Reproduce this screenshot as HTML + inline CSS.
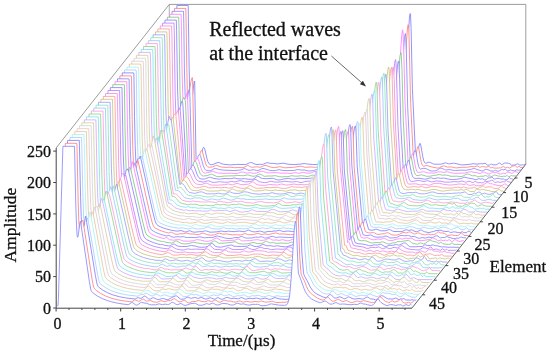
<!DOCTYPE html>
<html><head><meta charset="utf-8"><style>
html,body{margin:0;padding:0;background:#fff;}
svg{display:block;}
text{font-family:"Liberation Serif",serif;fill:#111;stroke:#111;stroke-width:0.3px;}
</style></head><body>
<svg width="550" height="353" viewBox="0 0 550 353">
<rect width="550" height="353" fill="#fff"/>
<path d="M169.3 4.4V164.3" stroke="#999" fill="none" stroke-width="0.8"/>
<g fill="#fff" stroke-width="0.75" stroke-linejoin="round">
<path d="M171.4 164.6L172.0 164.7 172.4 158.9 176.9 5.5 188.2 5.5 189.2 70.1 189.8 97.2 190.1 102.3 190.5 103.3 190.8 103.7 191.1 103.1 192.7 93.9 194.0 82.2 194.3 81.0 194.7 81.4 196.0 156.7 196.3 164.5 197.2 164.3 198.2 163.6 198.9 162.8 199.5 161.5 200.5 158.4 202.7 148.9 203.4 147.5 203.7 147.3 204.0 147.5 204.4 148.0 205.0 149.9 206.9 158.4 207.9 161.6 208.6 163.0 209.2 163.9 209.8 164.4 210.8 164.7 211.8 164.7 213.1 164.4 217.0 162.8 218.2 162.5 219.5 162.7 222.1 163.9 223.7 164.3 230.5 164.9 236.7 164.4 245.4 164.5 247.0 164.1 249.6 162.7 250.6 162.5 251.9 162.7 255.1 164.2 257.0 164.6 259.6 164.3 262.5 164.4 263.8 164.0 266.1 162.9 267.4 162.7 270.6 163.4 273.5 163.4 277.1 163.9 279.0 163.8 281.9 163.3 283.2 163.2 288.0 164.2 293.2 164.6 300.6 164.1 304.2 163.5 307.4 164.0 312.3 164.5 316.1 164.5 318.1 164.2 321.3 163.3 322.9 163.1 324.9 163.3 329.7 164.5 331.0 164.5 333.6 164.1 336.5 164.6 337.5 164.7 341.0 163.9 342.0 164.0 344.3 164.6 345.2 164.6 346.5 164.4 349.8 163.1 351.0 162.9 352.0 163.0 354.3 163.9 355.2 164.1 358.2 164.2 362.4 164.6 365.3 164.4 370.4 163.4 371.4 163.6 374.0 164.3 375.0 164.4 379.8 164.0 384.3 164.2 390.8 163.7 392.1 163.8 394.7 164.5 396.3 164.6 397.9 164.3 398.9 163.8 399.8 162.7 400.5 161.3 401.1 159.2 401.8 156.1 402.7 148.8 403.7 137.5 405.3 107.9 408.6 30.7 409.5 17.0 409.8 14.6 410.2 13.5 410.5 14.2 411.1 28.7 412.4 88.8 415.7 158.1 416.0 161.8 417.0 158.1 418.9 146.5 419.5 144.0 419.9 143.4 420.2 143.5 420.8 145.3 422.8 156.6 423.7 160.7 424.7 162.7 425.0 163.0 425.7 163.2 426.3 163.2 428.3 162.3 429.2 162.2 430.2 162.4 432.5 163.6 433.8 164.1 435.4 164.2 439.6 164.2 441.8 164.0 444.4 163.1 445.4 162.9 446.4 163.0 448.3 163.8 449.3 163.9 453.5 163.2 454.8 163.3 460.6 164.7 462.5 164.9 469.3 164.4 473.2 163.7 477.1 164.1 480.3 163.7 482.5 163.8 485.1 163.3 486.1 163.7 487.4 165.2 487.7 165.2 489.3 165.2 490.6 164.3 491.3 164.1 491.9 164.2 492.9 164.8 496.1 164.9 497.1 164.4 498.7 163.2 499.3 163.0 500.0 163.3 501.3 164.4 501.9 164.6 502.6 164.4 503.9 163.4 504.8 163.0 505.8 162.9 508.4 163.3 510.0 163.8 511.6 165.2 515.2 164.9 516.8 164.0 517.4 163.9 518.4 164.1 519.7 165.0 521.3 165.1 522.6 164.8 523.6 164.9 524.9 164.5 525.5 164.1" stroke="#7070ff"/>
<path d="M169.0 167.6L169.7 167.6 170.0 161.9 174.5 8.4 185.8 8.4 186.1 21.7 186.8 68.7 187.4 94.8 187.8 99.9 188.1 99.9 189.1 94.6 190.7 82.5 191.6 79.0 192.3 77.5 192.6 81.5 194.2 159.5 194.5 167.3 195.8 166.5 196.5 165.6 197.1 164.3 198.1 161.3 200.4 152.4 201.0 150.9 201.3 150.6 201.7 150.6 202.0 150.8 202.6 152.3 204.9 161.1 206.2 164.9 206.8 166.0 207.5 166.7 208.1 167.0 209.1 167.3 212.3 166.9 215.6 165.6 216.5 165.4 217.8 165.7 220.4 166.8 222.7 167.2 226.2 167.4 230.4 167.2 234.6 167.7 238.5 167.5 242.0 167.7 244.0 167.4 246.6 165.9 247.5 165.5 248.5 165.7 250.4 166.8 251.7 167.2 253.4 167.2 256.3 166.8 259.8 167.2 261.1 167.0 263.7 165.7 265.0 165.3 266.0 165.5 271.8 167.4 273.1 167.6 274.7 167.6 279.8 166.7 281.1 166.9 283.7 167.6 285.0 167.8 293.7 167.3 300.8 166.2 301.8 166.3 303.8 167.0 305.1 167.3 310.9 167.0 315.4 167.3 317.0 167.1 319.6 166.3 320.9 166.2 324.4 167.2 326.7 167.5 331.2 167.1 335.4 167.5 339.3 167.1 342.5 167.3 345.8 166.7 348.0 166.6 349.0 166.7 351.6 167.4 354.8 167.2 358.0 167.8 360.0 167.9 365.1 167.8 369.3 166.9 380.0 167.8 383.2 167.4 385.5 167.2 388.7 166.6 392.6 167.0 394.2 167.1 395.5 166.8 396.5 166.3 397.5 165.4 398.1 164.3 398.7 162.7 399.4 160.2 400.4 154.3 401.3 144.8 402.9 119.3 406.5 40.9 407.5 28.1 407.8 25.8 408.1 24.7 408.4 25.1 408.8 29.5 409.1 38.1 410.4 94.9 410.7 103.6 413.6 164.1 413.9 165.4 414.9 161.8 417.2 148.5 417.8 146.8 418.1 146.8 418.5 147.3 419.1 149.9 420.7 159.6 421.4 162.6 422.3 165.3 422.7 165.7 423.3 166.2 424.0 166.2 425.9 165.6 426.9 165.5 431.4 166.9 437.5 168.1 439.5 167.7 442.0 166.2 443.3 165.9 444.3 166.0 447.2 167.0 451.4 166.9 454.6 167.7 456.3 167.9 461.8 167.3 467.6 167.2 471.1 166.5 474.4 166.8 476.9 166.0 477.6 166.0 479.2 167.0 479.8 167.2 480.5 167.1 482.4 166.5 484.4 166.9 486.6 167.1 488.6 166.5 489.2 166.7 490.5 167.7 491.8 167.7 492.8 167.4 493.7 168.0 495.4 168.1 498.3 168.1 499.2 167.8 500.5 168.0 502.5 166.8 503.1 166.6 503.8 166.7 505.4 167.7 506.0 167.8 507.6 167.2 509.2 168.0 509.9 168.0 512.2 166.3 514.4 165.7 515.4 165.9 516.7 167.0 517.3 167.3 517.6 167.2 518.9 166.2 519.3 166.2 519.6 166.5 520.6 167.8 523.1 167.1" stroke="#ff7070"/>
<path d="M166.7 170.5L167.3 170.5 167.6 164.8 172.1 11.3 183.5 11.3 183.8 23.4 184.4 68.9 185.1 94.4 185.4 99.6 185.7 100.3 187.0 99.5 187.7 97.2 188.6 90.7 188.9 89.6 189.3 89.3 189.6 89.7 189.9 96.6 191.9 168.9 192.2 170.2 193.5 169.3 194.8 167.2 195.7 164.6 198.0 156.6 198.6 155.1 199.3 154.5 199.6 154.5 199.9 154.9 200.6 156.2 203.2 165.4 204.5 168.6 205.1 169.5 205.7 170.1 206.7 170.5 208.0 170.7 209.6 170.8 210.9 170.5 211.9 170.1 214.1 168.6 215.4 168.4 219.3 169.5 223.2 170.1 225.8 170.3 230.0 170.3 233.9 170.6 240.6 170.0 241.9 169.6 243.9 168.7 244.5 168.6 245.5 168.8 247.7 169.9 249.0 170.3 250.3 170.3 253.2 169.7 254.2 169.8 256.5 170.4 257.8 170.5 259.1 170.2 261.6 168.7 262.9 168.4 264.2 168.6 269.7 170.4 273.9 170.7 275.5 170.5 278.1 169.8 279.1 169.7 283.9 170.6 293.3 170.5 294.9 170.3 297.2 169.6 298.2 169.5 301.4 170.1 304.6 170.0 307.2 170.8 309.5 171.0 313.7 170.5 316.9 169.4 317.9 169.3 321.1 170.1 322.7 170.3 325.6 170.2 329.2 169.7 333.7 170.2 336.9 169.8 339.2 169.8 342.1 169.5 344.7 169.4 346.0 169.5 348.2 170.2 352.4 169.7 357.3 170.5 358.9 170.6 362.4 170.4 366.3 169.6 367.3 169.7 369.9 170.3 371.2 170.4 375.7 169.8 379.2 169.7 382.8 170.5 385.7 170.6 389.6 171.0 391.9 170.9 393.5 170.3 394.4 169.2 395.1 168.0 395.7 166.2 396.4 163.6 397.3 157.7 398.3 148.5 399.9 124.4 403.5 50.4 404.5 37.7 405.1 33.9 405.4 33.6 405.7 36.3 406.4 53.6 407.7 107.5 410.6 166.1 410.9 168.5 411.6 166.6 412.2 163.8 414.1 152.6 414.8 150.6 415.1 150.3 415.4 150.6 416.1 152.7 417.7 162.1 418.7 166.4 419.6 168.5 420.0 168.8 420.6 169.1 423.2 168.4 425.1 168.4 426.4 168.8 430.0 170.6 431.3 170.9 432.6 171.0 434.5 170.9 436.1 170.6 437.4 170.0 439.7 168.4 441.0 168.1 441.9 168.2 444.5 169.6 445.5 169.9 446.5 169.9 449.4 169.5 453.2 170.3 455.5 170.5 461.0 170.1 466.2 170.3 469.1 169.6 471.3 169.3 473.3 168.5 474.2 168.4 475.2 168.7 476.8 169.5 478.8 170.0 481.3 170.9 482.3 170.8 483.6 170.3 485.9 169.2 489.1 170.1 490.4 170.9 492.0 171.0 493.6 171.1 494.6 170.4 495.2 170.2 495.9 170.4 496.9 171.1 499.4 171.1 500.4 170.0 501.1 169.6 501.7 169.5 503.3 169.9 505.3 169.2 505.9 169.5 507.2 170.9 507.5 170.9 509.1 170.6 509.8 170.1 510.4 169.9 511.1 170.0 511.7 170.5 515.0 171.0 516.2 169.9 516.9 169.7 518.5 170.4 519.8 170.0 520.8 170.1" stroke="#7a7aff"/>
<path d="M164.3 173.5L164.9 173.5 165.2 167.7 169.8 14.3 181.1 14.3 181.4 25.2 182.0 68.8 182.7 93.6 183.0 99.0 183.3 100.2 183.7 100.5 184.6 98.5 185.0 98.5 185.3 98.7 185.6 98.6 185.9 97.8 186.9 93.4 187.2 92.5 187.5 95.7 190.1 169.4 190.4 172.1 191.7 171.1 192.7 169.5 193.7 167.0 195.9 159.9 196.6 158.6 197.2 158.2 197.9 158.7 198.5 159.9 201.1 168.4 202.1 170.8 202.7 171.8 203.4 172.5 204.0 172.9 204.7 173.0 205.6 173.0 209.2 172.3 212.7 171.3 213.7 171.5 216.6 172.7 218.2 173.1 226.3 173.4 230.8 173.2 235.0 173.7 237.9 173.3 240.8 172.2 242.1 172.0 243.4 172.2 246.7 173.1 250.2 172.7 253.5 173.3 254.7 173.3 256.7 172.9 260.2 171.5 261.5 171.3 263.5 171.5 266.4 172.6 268.0 172.9 276.7 172.6 281.2 173.2 287.1 173.2 290.9 173.5 291.9 173.4 294.8 172.6 298.7 173.3 300.0 173.1 302.2 172.5 303.2 172.4 307.1 173.2 309.0 173.2 311.3 172.8 314.2 171.6 315.2 171.4 316.5 171.6 320.0 173.1 321.9 173.3 323.6 173.2 326.5 172.3 327.4 172.2 330.7 172.9 332.0 172.9 335.5 171.9 336.8 171.7 337.8 171.8 340.4 172.5 342.9 172.4 345.5 173.0 348.4 173.0 352.3 173.5 357.2 173.1 361.4 173.2 365.6 172.5 371.4 173.0 375.9 172.9 379.1 173.4 382.0 173.2 385.3 173.4 389.2 172.6 390.8 172.0 391.7 171.0 392.4 169.8 393.0 168.0 393.7 165.4 394.6 159.3 395.6 149.7 397.2 124.7 400.8 48.3 401.8 34.9 402.4 30.4 402.7 29.8 403.0 31.5 403.7 47.8 405.0 101.8 408.5 170.4 409.5 167.0 411.4 156.4 412.1 154.2 412.4 153.8 412.7 153.9 413.4 155.6 415.3 166.2 416.0 169.0 416.9 171.5 417.6 172.2 418.2 172.5 423.4 171.7 424.4 171.9 427.6 173.0 431.2 172.9 433.7 173.1 435.0 172.9 437.6 172.1 438.9 171.8 440.5 171.8 443.8 172.4 447.3 171.8 448.6 172.0 451.8 173.0 454.7 173.3 464.4 173.1 468.3 172.1 471.5 171.7 474.1 172.4 476.1 172.3 479.0 173.4 479.9 173.6 480.6 173.4 482.5 172.2 483.2 172.1 484.1 172.1 484.8 172.3 486.7 173.4 488.0 173.9 490.3 174.0 490.6 173.9 491.9 172.3 492.5 172.0 494.2 172.5 496.4 172.6 499.0 173.6 500.3 174.0 501.3 174.0 503.2 173.1 503.9 173.2 504.8 173.8 505.8 173.5 507.1 172.1 507.7 171.9 510.0 172.6 511.3 173.4 511.9 173.7 512.6 173.3 513.9 171.8 514.2 171.6 514.8 171.5 517.1 172.0 518.4 173.1" stroke="#ff70ff"/>
<path d="M161.9 176.4L162.5 176.4 162.9 170.7 167.4 17.2 178.7 17.2 179.0 28.4 180.0 90.3 180.6 107.1 181.0 108.0 181.9 102.1 182.3 100.9 183.5 97.6 183.9 97.5 184.2 98.1 185.2 100.4 185.5 102.4 188.4 171.2 188.7 174.6 189.0 174.8 190.0 173.3 190.7 171.9 193.9 162.4 194.5 161.4 195.2 161.1 195.8 161.7 196.5 162.9 199.1 170.8 200.3 173.8 201.6 175.3 202.6 175.8 203.6 176.0 207.1 175.6 210.4 174.4 211.3 174.2 212.6 174.5 216.5 176.4 218.8 176.7 224.9 176.0 234.3 175.8 237.5 175.4 240.4 175.6 243.6 175.7 247.5 174.9 248.5 175.1 251.7 176.0 254.0 176.3 255.6 175.9 258.5 174.4 259.8 174.1 261.1 174.4 263.4 175.9 264.6 176.3 268.2 176.0 271.8 176.0 275.0 175.7 276.3 175.9 279.5 176.7 281.4 176.8 287.9 176.6 291.8 175.7 294.7 176.1 297.0 176.2 301.5 175.7 306.0 176.3 307.9 176.4 309.2 176.2 311.5 175.3 312.8 175.1 314.1 175.2 317.3 176.0 321.8 176.5 323.1 176.4 326.4 175.7 330.6 176.2 331.5 176.0 334.4 174.9 337.3 175.3 340.3 174.6 341.5 174.9 346.1 176.4 347.4 176.6 352.2 176.0 358.3 176.2 362.9 175.4 367.7 176.1 372.9 175.8 376.4 176.3 379.0 176.1 382.9 176.1 387.4 175.7 388.7 175.3 389.7 174.5 390.3 173.6 391.0 172.1 391.6 170.0 392.6 164.9 393.6 157.1 394.5 146.0 395.5 131.3 399.1 66.7 400.0 56.0 400.7 52.7 401.0 52.4 401.3 55.0 402.0 70.9 403.3 120.9 406.2 174.5 406.5 174.4 406.8 173.6 407.5 171.3 409.7 159.2 410.4 157.2 410.7 156.9 411.0 157.1 411.7 159.0 413.6 169.2 414.6 172.8 415.5 174.7 416.2 175.4 416.8 175.6 418.1 175.5 420.4 175.0 421.7 174.8 423.0 175.1 426.2 176.2 429.1 176.3 430.7 176.1 433.6 175.4 436.2 175.2 439.1 174.5 442.7 175.2 446.2 175.0 451.1 176.3 456.6 176.2 461.1 176.6 463.0 176.1 465.9 174.4 466.9 174.0 467.6 174.0 469.5 174.5 472.4 175.8 475.0 175.6 475.6 175.7 477.6 176.8 479.5 176.6 480.8 176.2 483.4 176.3 485.3 175.5 486.0 175.7 487.3 176.3 489.2 175.8 491.5 176.6 492.1 176.4 493.7 175.2 494.7 175.0 495.7 175.2 497.6 175.9 499.5 176.1 500.8 176.7 503.7 176.2 505.7 176.3 506.3 175.8 507.0 175.6 507.6 175.9 508.6 176.6 509.2 176.7 511.5 175.5 512.8 176.0 513.8 175.8 515.4 175.9 516.0 176.3" stroke="#70c070"/>
<path d="M159.5 179.5L160.2 179.6 160.5 173.6 165.0 20.1 176.3 20.1 176.6 30.5 177.6 91.0 178.3 107.9 178.6 109.6 178.9 110.1 179.2 110.0 179.9 108.4 181.5 101.9 181.8 101.2 182.1 101.1 182.5 101.5 182.8 103.2 186.3 170.2 186.7 175.0 187.0 176.8 187.3 176.8 187.6 176.4 188.6 174.5 191.5 166.7 192.2 165.6 192.8 165.1 193.5 165.4 194.4 166.9 197.0 174.1 198.3 176.8 198.9 177.7 199.9 178.5 200.9 178.9 201.9 179.0 204.1 179.0 205.4 178.8 208.6 177.5 209.6 177.3 210.6 177.4 213.8 178.4 218.7 179.1 220.3 179.0 225.1 178.5 230.6 178.7 234.2 178.0 235.1 178.1 237.1 178.7 238.0 178.8 241.6 178.9 244.5 178.6 248.1 179.2 251.9 179.3 252.9 179.2 253.9 178.8 256.8 176.6 257.7 176.3 258.7 176.5 261.0 178.0 262.6 178.5 266.1 178.7 272.3 178.3 273.6 178.5 276.5 179.7 278.4 179.9 280.4 179.9 282.9 179.1 288.1 178.3 291.7 179.0 293.6 179.1 295.2 179.0 298.5 178.3 304.9 178.6 309.8 178.3 312.0 178.4 316.2 179.1 318.8 179.2 320.4 179.1 323.7 178.4 326.6 178.9 327.9 178.9 330.4 177.9 331.4 177.6 334.3 178.3 337.6 177.7 340.1 177.9 341.4 178.2 344.3 179.4 346.3 179.7 359.8 178.6 361.1 178.7 364.4 179.3 366.0 179.4 369.9 178.7 372.8 178.7 376.0 178.4 380.2 179.4 382.1 179.7 384.1 179.5 385.7 178.9 386.7 178.2 387.6 177.0 388.3 175.7 388.9 173.9 390.2 167.7 391.2 160.1 392.2 149.3 393.1 135.3 396.7 74.5 397.6 64.5 398.3 61.4 398.6 61.1 398.9 63.5 399.6 78.7 400.9 126.8 403.5 174.4 403.8 177.1 404.1 176.9 404.4 176.2 405.1 174.1 407.3 162.6 408.0 160.6 408.3 160.3 408.6 160.4 409.3 162.0 411.2 171.7 412.2 175.3 412.8 176.8 413.5 177.7 413.8 178.0 414.8 178.3 416.1 178.4 419.9 178.3 423.2 179.0 424.5 179.2 426.7 178.9 430.6 177.8 431.6 177.9 433.2 178.5 434.2 178.6 437.4 177.9 438.4 177.9 440.6 178.3 443.5 178.1 444.5 178.2 449.7 179.4 452.6 179.6 456.5 179.3 460.3 178.7 461.6 178.3 463.6 177.4 464.9 177.2 468.7 178.2 472.9 178.8 475.2 179.7 476.8 179.5 478.4 178.7 479.1 178.7 480.7 179.2 482.3 178.7 482.9 178.8 484.2 179.9 485.9 179.9 486.2 179.8 487.5 178.4 488.1 177.9 490.1 177.9 491.7 177.1 492.3 177.3 493.6 178.6 494.6 179.1 495.2 179.0 496.8 178.4 497.8 178.3 499.4 178.5 500.4 179.0 502.0 179.1 503.3 178.8 504.3 179.6 504.6 179.7 506.9 179.8 507.8 179.4 508.8 177.9 509.4 177.5 509.8 177.7 510.4 178.6 511.7 178.8 513.6 179.5" stroke="#8070ff"/>
<path d="M157.2 182.4L157.8 182.4 158.1 176.5 162.6 23.1 174.0 23.1 174.3 33.3 175.2 96.0 175.9 113.9 176.2 115.8 176.9 116.9 177.2 117.0 177.5 116.5 177.8 115.2 178.5 111.6 179.1 109.1 179.8 108.2 180.1 108.1 180.4 111.2 184.6 171.4 185.3 178.1 185.6 178.8 189.1 170.4 190.1 169.0 190.8 168.8 191.4 169.1 192.4 170.5 195.3 177.6 195.9 178.8 196.9 180.1 197.9 180.9 198.8 181.3 203.0 182.0 204.3 181.9 206.9 181.0 207.9 180.8 208.8 180.9 211.8 182.1 213.0 182.4 214.7 182.4 219.5 181.7 224.4 182.2 227.3 182.2 228.6 182.1 231.5 181.4 234.0 181.9 235.3 181.9 238.6 180.9 240.2 180.7 241.5 180.8 244.4 181.8 246.0 181.9 250.8 181.5 252.1 181.0 254.1 179.7 255.0 179.4 256.0 179.6 258.3 181.1 259.2 181.6 262.8 182.4 264.7 182.6 266.7 182.4 269.9 181.5 271.2 181.3 274.4 182.0 276.4 182.1 280.9 181.9 284.8 181.2 288.3 181.7 291.9 181.9 293.2 181.9 296.4 181.5 297.4 181.7 300.0 182.4 300.9 182.6 302.2 182.4 304.8 181.6 309.3 181.1 310.6 181.1 314.5 181.9 317.1 182.0 321.3 181.3 323.9 181.7 324.8 181.8 327.4 180.8 328.4 180.6 331.6 181.2 334.2 181.0 335.5 181.1 341.0 182.1 345.2 182.1 350.7 182.6 354.6 182.4 357.8 181.3 358.8 181.1 363.0 181.7 366.8 181.4 372.0 181.4 375.9 181.9 378.8 182.1 381.4 182.0 383.0 181.4 384.0 180.6 384.6 179.6 385.3 178.1 385.9 176.0 387.2 169.3 388.2 161.3 389.1 150.1 390.1 135.7 393.7 73.6 394.6 63.3 395.3 60.1 395.6 59.6 395.9 61.7 396.6 76.9 397.9 124.5 400.8 176.5 401.1 180.2 401.7 178.6 402.4 176.3 404.3 166.6 405.0 164.7 405.3 164.3 405.6 164.5 406.3 166.1 408.2 175.4 409.2 178.9 410.1 180.8 410.5 181.1 411.4 181.4 413.4 181.4 416.9 180.6 418.5 180.5 420.2 180.7 422.7 181.4 424.0 181.5 425.0 181.4 426.9 180.7 427.9 180.7 431.5 181.9 432.8 181.8 435.3 181.1 436.6 181.0 441.5 181.3 444.7 182.1 446.3 182.2 450.5 182.0 454.4 181.6 458.6 181.9 461.8 181.0 462.8 181.2 464.7 181.9 465.7 182.1 466.4 182.1 468.0 181.4 468.9 181.2 470.2 181.4 471.8 182.3 472.8 182.5 473.5 182.3 474.8 181.5 475.4 181.4 476.0 181.6 477.0 182.5 477.3 182.6 479.0 182.8 480.2 182.4 481.2 182.8 483.2 182.8 483.5 182.7 484.5 181.6 485.1 181.2 487.0 181.7 488.3 181.2 489.9 181.1 491.2 180.4 491.9 180.2 492.9 180.6 494.5 182.1 495.1 182.5 497.4 181.9 498.3 181.9 500.3 182.4 500.9 182.3 502.9 181.6 504.5 181.8 506.1 180.6 506.4 180.6 506.7 180.7 507.7 181.6 508.7 181.8 510.0 182.2 511.3 182.1" stroke="#b070ff"/>
<path d="M154.8 185.1L155.4 185.2 155.7 179.5 160.3 26.0 171.6 26.0 171.9 35.4 172.9 96.7 173.5 114.7 173.8 116.7 174.2 116.8 175.8 114.4 176.4 114.0 176.7 113.5 178.0 109.7 178.4 110.5 183.2 171.6 183.9 178.7 184.2 179.8 186.8 174.3 187.7 173.0 188.4 172.7 189.0 172.9 190.0 174.1 193.2 180.7 194.8 182.9 195.8 183.6 196.8 184.1 200.0 184.6 201.9 184.5 204.9 183.3 206.1 183.1 207.4 183.4 210.3 184.8 212.0 185.1 218.4 185.1 224.6 184.7 227.8 184.0 228.8 184.1 231.0 184.7 232.3 184.8 233.6 184.6 235.9 183.6 237.2 183.4 238.1 183.5 240.7 184.6 243.0 184.7 248.5 184.1 249.8 183.5 251.7 182.1 252.7 181.8 253.6 182.2 255.9 184.0 257.5 184.8 259.5 185.1 264.6 185.4 266.2 185.2 269.5 184.4 273.4 184.8 277.2 185.0 278.5 184.8 280.8 184.1 281.8 184.0 284.7 184.8 286.6 185.0 289.2 184.8 294.0 184.0 297.6 184.7 301.1 184.5 304.0 184.8 307.3 184.6 310.8 185.3 312.4 185.4 315.7 185.1 319.2 184.3 323.4 183.6 324.4 183.6 326.7 184.0 327.6 184.0 331.8 183.2 334.1 183.5 337.6 184.7 340.2 184.9 346.7 184.8 352.8 185.1 356.4 184.9 359.3 185.0 363.2 184.6 366.4 184.9 370.6 184.3 377.4 184.9 379.0 184.7 380.3 184.3 381.3 183.5 382.2 182.2 382.9 180.8 383.5 178.9 384.8 172.6 385.8 164.9 386.8 154.3 387.7 140.6 391.3 81.4 392.3 71.2 392.9 67.6 393.2 66.9 393.5 67.6 394.2 79.5 395.5 127.1 398.7 182.4 399.0 182.6 400.0 179.5 402.3 168.4 402.9 166.9 403.2 166.8 403.6 167.2 404.2 169.3 405.8 177.5 406.8 181.3 407.8 183.4 408.1 183.8 408.7 184.0 410.0 184.1 415.2 183.8 416.8 184.0 419.7 184.8 421.0 184.9 422.0 184.8 423.9 184.3 424.9 184.2 427.8 185.1 428.8 185.2 430.4 185.0 433.6 183.6 435.2 183.3 439.7 183.4 443.0 184.2 449.8 185.1 454.9 184.7 458.5 184.0 461.7 184.1 464.0 184.5 466.2 183.8 466.9 184.0 468.5 185.1 469.2 185.4 471.4 185.2 474.0 184.6 474.6 184.8 475.9 185.7 479.2 185.7 481.8 185.3 483.0 184.9 486.6 182.8 487.6 182.5 488.2 182.7 489.8 183.7 490.5 183.8 492.1 183.7 492.7 184.0 493.7 184.8 495.0 184.7 498.2 185.6 499.5 185.3 500.5 185.6 501.8 185.4 503.7 184.7 504.4 183.9 504.7 183.8 505.0 183.8 507.3 185.3 508.9 185.7" stroke="#f080e0"/>
<path d="M152.4 187.2L153.0 187.2 153.4 182.4 157.9 28.9 169.2 28.9 169.5 37.9 170.5 99.9 171.1 118.4 171.5 120.8 171.8 121.5 172.1 121.4 172.4 120.6 173.7 115.3 174.0 114.8 175.7 113.3 181.5 175.9 182.1 181.5 182.4 181.6 183.7 179.1 184.7 177.6 185.7 176.8 186.6 176.8 187.3 177.2 188.3 178.4 191.2 183.5 192.8 185.9 193.8 186.8 194.7 187.4 195.7 187.8 196.7 187.9 199.6 187.6 203.1 186.4 204.4 186.3 205.7 186.5 208.3 187.7 209.6 187.9 215.4 187.5 221.2 187.8 224.8 187.3 228.3 188.0 229.9 188.1 231.6 187.8 233.8 186.7 234.8 186.4 235.8 186.6 237.7 187.4 239.0 187.8 241.9 188.3 243.8 188.4 245.1 188.2 246.1 187.9 247.1 187.4 249.0 185.9 249.7 185.5 250.3 185.5 251.3 185.8 253.5 187.2 254.8 187.8 256.4 188.2 258.4 188.3 263.2 188.0 267.1 187.4 270.7 187.7 277.1 187.3 278.4 187.5 281.3 188.3 283.6 188.5 288.1 187.9 291.3 186.8 292.3 186.7 295.2 187.2 298.4 187.1 301.3 187.6 305.5 186.7 309.4 187.4 313.3 187.8 314.9 187.8 317.5 187.3 319.8 187.1 323.6 187.7 324.9 187.5 327.5 186.5 328.8 186.3 330.8 186.6 335.0 187.9 337.5 188.2 342.4 187.8 350.8 188.0 354.7 187.5 357.6 187.7 360.5 187.5 364.0 188.1 367.3 187.6 371.1 188.0 374.0 187.8 377.3 187.9 378.6 187.5 379.5 186.8 380.2 185.8 380.8 184.4 381.5 182.4 382.8 175.8 383.7 168.1 384.7 157.6 385.7 144.1 388.6 94.3 389.6 80.2 390.5 70.7 391.2 67.8 391.5 67.4 391.8 69.5 392.1 75.4 393.4 122.5 393.8 129.2 397.0 182.8 397.3 185.7 398.3 182.4 400.2 172.6 400.9 170.7 401.2 170.4 401.5 170.6 402.2 172.2 404.1 181.4 405.1 184.7 406.0 186.5 406.7 186.8 408.0 187.2 409.6 187.2 413.8 186.6 418.6 187.1 421.5 186.5 422.5 186.7 424.8 187.6 426.4 187.8 428.0 187.5 431.6 186.4 433.2 186.3 438.3 186.8 441.6 187.7 443.2 188.0 450.9 188.1 452.2 188.0 454.8 187.4 457.7 187.2 459.0 187.3 461.3 188.0 461.9 187.8 463.2 187.0 463.9 186.9 464.5 187.0 467.1 188.0 469.7 188.2 472.6 187.9 474.5 187.2 475.2 187.5 476.1 188.7 477.8 188.7 478.1 188.6 479.4 187.4 481.0 187.1 482.3 186.2 482.9 186.0 483.6 186.2 484.9 187.2 485.5 187.4 488.1 186.9 491.3 186.9 492.6 187.3 493.6 188.2 495.9 188.6 496.8 188.3 498.1 188.4 498.8 188.3 499.4 187.7 500.7 186.1 501.3 185.8 502.0 186.3 503.3 187.7 504.6 187.8 505.9 188.6 506.5 188.6" stroke="#ff9090"/>
<path d="M150.0 191.1L150.7 191.2 151.0 185.3 155.5 31.9 166.8 31.9 167.1 40.3 168.1 102.7 168.4 114.5 168.8 121.7 169.1 124.5 169.7 124.3 170.4 123.3 171.7 118.7 172.0 118.2 172.6 117.7 173.0 117.1 180.4 183.2 180.7 183.7 182.0 181.7 183.3 180.5 184.3 180.3 184.9 180.6 186.2 182.0 189.8 188.1 190.7 189.2 192.0 190.1 195.6 190.7 196.9 190.7 198.2 190.5 201.1 189.5 202.7 189.3 204.3 189.6 207.5 190.8 209.5 191.1 218.2 190.9 221.8 190.1 222.7 190.2 225.6 190.9 227.6 191.1 229.2 190.7 231.4 189.2 232.4 189.0 233.4 189.2 235.3 190.2 236.6 190.7 238.9 191.0 241.1 191.1 242.4 191.0 243.4 190.6 246.3 188.6 247.6 188.2 248.9 188.5 253.1 190.6 254.4 190.9 255.7 191.0 261.5 190.7 265.4 189.8 269.9 190.6 271.8 190.6 275.1 190.0 278.3 190.5 281.8 190.5 285.7 191.2 287.0 191.0 289.9 190.1 292.2 190.1 294.8 189.8 295.7 189.9 298.0 190.6 299.3 190.8 303.2 190.4 306.7 190.6 311.9 190.5 313.5 190.2 315.8 189.1 316.7 188.9 317.7 189.2 320.0 190.3 321.3 190.4 322.6 190.1 325.1 188.8 326.1 188.6 327.4 188.9 329.7 190.4 330.6 190.8 332.9 191.1 339.0 191.0 343.6 190.4 348.4 191.0 352.6 190.1 356.5 190.3 360.0 190.9 364.2 190.2 367.8 190.8 369.7 190.9 373.9 190.4 374.9 190.1 375.9 189.7 376.8 188.7 377.5 187.7 378.1 186.2 378.8 184.1 380.1 177.2 381.0 169.0 382.0 157.9 383.0 143.9 386.5 83.5 387.2 75.6 387.8 70.0 388.5 67.2 388.8 67.0 389.1 69.6 389.4 76.1 390.7 123.3 394.6 185.3 394.9 187.3 395.6 184.8 397.5 175.6 398.2 174.0 398.5 173.8 398.8 174.1 399.5 175.8 401.4 184.3 402.4 187.1 403.3 188.6 405.3 189.5 406.6 189.8 408.2 189.8 411.4 189.3 412.7 189.3 415.6 189.8 418.8 189.4 422.4 190.6 426.3 190.9 428.2 190.7 431.8 189.6 434.0 189.4 436.0 189.6 439.8 190.8 442.8 191.1 448.9 190.4 452.1 189.9 454.7 190.2 457.0 190.1 458.6 190.3 461.2 189.6 463.4 190.2 464.1 190.1 465.4 189.4 466.0 189.3 468.3 190.3 470.2 191.5 474.4 191.6 474.7 191.4 476.0 189.3 476.7 189.1 478.3 189.7 480.6 190.0 482.5 189.4 483.1 189.4 486.0 190.2 488.6 190.5 491.2 191.4 493.2 191.6 495.1 191.4 497.4 190.6 498.3 189.4 499.0 189.2 500.9 191.0 502.5 191.0 503.8 191.6 504.1 191.6" stroke="#c0c070"/>
<path d="M147.7 193.8L148.3 193.9 148.6 188.3 153.1 34.8 164.5 34.8 164.8 42.5 165.7 103.7 166.1 115.4 166.4 122.8 166.7 125.8 167.0 126.0 167.4 125.3 169.0 116.6 169.3 116.3 170.3 119.6 170.6 119.8 170.9 118.9 171.2 119.8 179.6 184.0 180.0 184.7 180.9 183.9 181.6 183.6 182.2 183.6 183.2 184.2 184.2 185.4 187.4 190.5 188.4 191.6 189.3 192.4 194.5 193.4 196.1 193.1 199.7 192.0 201.6 191.8 202.9 192.2 205.8 193.6 207.1 193.9 210.7 193.8 214.2 193.9 218.4 193.2 221.6 193.8 223.6 194.0 224.9 193.9 225.8 193.6 228.4 192.2 229.4 191.9 230.4 192.0 232.3 192.8 233.6 193.2 237.5 193.5 240.1 193.2 243.3 191.9 244.6 191.8 247.5 192.1 251.0 193.2 252.7 193.6 259.1 194.2 261.1 194.1 264.0 193.6 268.2 193.8 271.1 192.9 272.0 192.7 276.6 193.8 279.5 194.0 281.7 194.0 284.3 193.7 287.9 192.7 290.1 192.6 291.8 192.8 294.3 193.8 295.3 194.0 296.9 193.9 299.8 193.2 301.1 193.1 302.4 193.3 305.6 194.2 307.6 194.5 309.2 194.4 310.2 194.2 311.1 193.7 313.1 192.3 314.0 192.0 315.0 192.3 317.3 193.6 317.9 193.7 318.9 193.6 320.2 193.0 322.1 191.5 323.1 191.1 324.1 191.4 326.6 193.5 327.3 193.7 328.3 193.8 331.2 193.7 335.0 193.9 338.9 193.6 347.6 194.0 349.3 193.8 352.5 193.1 353.8 193.0 357.0 193.5 360.6 193.3 363.5 193.9 364.8 193.9 371.2 193.4 372.9 192.9 373.8 192.0 374.5 191.0 375.1 189.6 375.8 187.5 377.1 181.0 378.0 173.4 379.0 163.1 380.0 150.0 382.9 101.7 383.8 87.8 384.8 78.2 385.5 74.9 385.8 74.2 386.1 74.7 386.4 78.8 386.7 86.6 388.0 130.8 391.9 189.8 392.2 189.9 394.5 180.0 395.1 178.2 395.5 177.9 395.8 178.0 396.4 179.3 398.4 187.9 399.0 190.2 399.7 191.8 400.3 192.7 402.9 193.5 404.5 193.5 408.1 192.5 412.3 192.7 415.5 192.3 416.5 192.5 418.7 193.4 420.0 193.8 424.5 193.8 427.1 193.4 430.7 192.2 432.6 192.0 434.2 192.2 436.8 193.2 438.1 193.5 444.6 193.8 448.1 193.3 451.4 193.5 454.9 193.1 456.9 193.1 458.5 192.8 460.7 193.0 464.9 191.9 465.9 192.3 467.8 194.2 468.5 194.5 472.0 194.5 473.7 193.3 474.3 193.2 475.6 193.4 476.2 193.3 477.9 192.3 478.5 192.1 479.8 192.3 480.4 192.5 482.1 193.9 482.4 193.9 484.6 193.1 487.2 194.1 488.8 194.4 490.8 194.1 492.4 193.4 494.0 193.0 495.6 191.9 496.3 191.7 496.9 192.3 497.9 194.0 498.2 194.2 499.5 194.5 501.8 194.5" stroke="#9090ff"/>
<path d="M145.3 196.6L145.9 196.5 146.2 191.2 150.8 37.7 162.1 37.7 162.4 45.3 163.4 108.4 163.7 120.6 164.0 128.4 164.3 131.8 165.0 132.4 165.3 132.4 165.6 132.1 166.3 130.4 167.6 125.3 167.9 124.9 168.5 124.5 168.9 125.7 176.3 180.3 177.6 188.5 177.9 188.5 178.9 187.7 179.5 187.4 180.2 187.3 181.1 187.6 182.8 189.2 186.0 193.4 187.0 194.4 188.2 195.3 193.7 196.4 196.3 195.4 198.3 195.3 200.2 195.6 204.4 196.6 207.0 196.9 209.2 196.9 211.5 196.7 214.1 195.9 215.1 195.8 218.6 196.4 221.8 196.4 223.1 196.0 225.7 194.5 226.7 194.3 228.0 194.7 231.2 196.5 233.5 196.9 237.0 196.9 238.0 196.6 240.6 195.4 245.4 194.9 247.1 195.2 250.9 196.6 252.9 197.0 258.0 196.7 261.6 196.2 265.1 196.3 268.4 195.7 271.9 196.7 274.2 196.9 275.8 196.7 279.0 196.1 282.3 195.9 283.6 195.5 285.8 194.6 286.8 194.4 288.1 194.7 290.7 196.3 292.0 196.6 293.6 196.5 297.5 195.4 299.1 195.2 300.4 195.3 304.2 196.3 306.2 196.5 307.5 196.2 309.7 195.0 310.7 194.8 311.7 195.2 313.9 196.6 315.2 196.8 316.5 196.5 319.4 194.2 320.4 194.0 321.0 194.2 323.0 195.7 323.9 196.2 329.4 197.3 334.6 196.8 339.8 196.6 344.0 196.8 345.3 196.6 347.9 195.8 348.8 195.7 350.1 195.9 352.4 196.6 353.4 196.7 357.2 196.1 360.5 196.4 364.0 196.3 368.2 196.5 369.8 196.3 371.1 195.8 371.8 195.2 372.4 194.3 373.1 192.8 373.7 190.7 375.0 184.0 376.0 176.2 376.9 165.7 377.9 152.4 381.8 89.1 382.4 81.5 383.1 76.2 383.7 73.4 384.0 73.1 384.4 75.6 384.7 82.1 386.0 127.3 390.2 190.1 390.5 192.5 392.8 183.3 393.4 181.9 393.7 181.7 394.1 182.0 394.7 183.6 396.6 191.7 397.6 194.3 398.3 195.3 401.2 196.2 402.8 196.2 406.3 195.4 409.6 195.4 412.5 194.6 413.8 194.9 415.7 196.0 417.0 196.5 420.2 197.0 423.1 197.1 425.1 196.9 426.4 196.5 429.3 195.3 430.9 195.0 432.2 195.3 434.8 196.3 436.4 196.7 440.6 196.8 444.8 196.2 448.7 196.9 450.9 197.1 452.9 196.9 455.5 195.9 457.4 195.8 459.0 195.3 460.0 195.2 461.6 195.5 463.5 197.0 464.2 197.2 470.3 197.5 471.3 196.9 472.9 195.7 475.5 195.0 476.8 195.0 478.4 195.9 479.0 195.9 480.3 194.5 481.0 194.2 481.9 194.7 483.9 197.0 485.2 197.3 485.5 197.3 486.1 196.8 486.8 196.6 488.4 197.0 489.1 196.9 490.7 196.0 492.3 194.7 492.9 194.3 493.6 194.7 494.9 197.0 495.2 197.2 496.8 197.4 499.4 197.5" stroke="#80e0b0"/>
<path d="M142.9 199.8L143.5 199.8 143.9 194.1 148.4 40.7 159.7 40.7 160.0 47.2 161.0 108.1 161.3 120.1 161.6 127.8 162.0 131.4 162.6 133.3 163.3 134.4 163.6 134.6 163.9 134.2 164.2 132.9 165.2 126.3 165.5 124.8 165.8 124.1 174.2 182.5 175.5 190.7 175.9 191.0 176.8 190.5 177.8 190.5 179.1 191.1 180.4 192.5 183.3 196.3 184.6 197.7 190.7 199.0 194.3 197.9 199.1 197.9 200.4 198.2 204.6 199.9 206.6 200.2 208.2 200.0 210.8 199.1 211.7 198.9 212.7 199.0 216.6 199.8 218.8 199.8 220.1 199.4 222.4 198.3 223.4 198.1 226.9 199.0 229.8 200.0 231.1 200.1 233.0 199.8 236.6 198.3 237.6 198.1 240.5 198.9 243.4 198.8 247.3 199.6 251.8 199.3 256.3 199.8 259.2 199.3 262.4 199.3 265.4 198.8 268.9 199.5 273.4 199.2 278.6 199.7 280.5 199.5 283.1 198.2 284.1 197.9 285.1 198.0 287.0 198.9 288.3 199.1 299.9 199.3 303.2 198.9 306.1 197.7 307.0 197.5 308.3 197.9 310.9 199.1 312.2 199.4 313.2 199.2 313.8 198.9 316.1 196.9 317.1 196.4 318.0 196.7 320.3 198.6 321.6 199.3 323.2 199.6 326.7 199.9 329.0 199.9 332.6 199.3 334.2 199.2 335.8 199.3 339.7 200.1 341.3 200.2 342.9 200.0 346.1 198.9 347.1 198.9 350.3 199.5 354.5 198.7 357.8 199.5 361.0 199.7 364.5 200.1 366.5 199.8 368.1 199.1 369.1 198.3 370.0 196.9 371.3 193.5 372.6 187.2 373.6 180.0 374.6 170.1 375.5 157.6 379.7 91.4 380.7 81.6 381.3 78.0 381.7 77.1 382.0 77.2 382.3 80.7 382.6 88.1 383.6 124.8 383.9 131.2 388.1 193.2 388.5 195.4 390.7 186.3 391.4 185.0 391.7 184.9 392.0 185.2 392.7 186.9 394.3 193.5 394.9 195.6 395.6 197.0 396.2 197.7 397.2 197.8 399.8 198.6 401.4 198.7 405.9 198.1 408.5 197.4 409.5 197.3 410.4 197.6 412.7 199.2 414.0 199.7 421.1 200.4 423.0 200.2 424.3 200.0 425.3 199.6 427.6 198.3 428.8 197.9 430.5 198.1 434.0 199.4 437.6 199.9 438.9 199.8 442.1 199.2 450.5 199.6 451.5 199.3 453.1 198.3 454.0 198.1 456.0 198.5 457.6 198.2 458.2 198.3 460.2 199.5 461.8 200.3 467.6 200.4 469.6 199.1 470.2 199.0 471.5 199.5 472.1 199.5 476.0 197.6 478.0 197.1 478.9 197.7 480.5 199.5 481.2 200.0 481.8 200.2 483.4 200.4 485.1 200.3 488.9 199.3 489.9 199.4 492.8 200.3 497.0 200.4" stroke="#90c0ff"/>
<path d="M140.5 202.6L141.2 202.7 141.5 197.1 146.0 43.6 157.3 43.6 157.6 50.1 158.6 113.3 158.9 125.9 159.3 134.1 159.6 138.1 159.9 138.4 160.2 138.3 160.6 138.0 160.9 137.0 161.8 131.9 162.2 131.0 162.5 130.5 163.1 130.3 163.8 130.9 172.2 186.9 173.5 194.0 173.8 194.2 174.8 193.9 175.4 193.9 176.7 194.4 178.0 195.6 181.2 199.3 181.9 200.0 182.2 200.2 186.1 201.2 190.0 201.9 191.9 201.2 192.9 201.0 195.8 201.5 201.6 202.0 205.5 202.1 209.0 201.7 215.8 202.5 216.8 202.3 219.0 201.4 220.0 201.2 222.6 201.8 224.9 202.1 227.1 202.7 228.4 202.8 230.7 202.4 233.9 201.2 234.9 201.1 237.8 201.9 240.7 201.4 241.7 201.4 245.9 202.7 249.1 202.7 253.0 203.1 254.6 202.9 257.8 201.8 260.7 201.6 262.0 201.7 265.6 202.6 273.6 202.8 277.8 202.3 278.8 201.9 280.4 200.9 281.4 200.6 282.4 200.8 285.0 202.5 286.6 202.8 291.1 202.5 295.0 201.8 296.3 201.9 298.8 202.5 299.8 202.5 300.8 202.2 302.4 201.4 303.4 201.2 306.3 201.9 309.8 202.1 310.8 201.9 313.1 200.4 314.0 200.2 314.7 200.3 316.9 201.3 321.8 202.6 323.4 202.9 328.2 203.2 330.5 203.1 334.1 202.5 339.6 201.9 343.1 201.1 344.1 201.2 346.3 202.4 347.6 202.8 348.6 202.7 351.2 202.1 355.1 202.7 361.8 202.6 363.5 202.4 365.1 201.7 366.0 200.9 367.0 199.5 367.7 198.1 368.3 196.2 369.6 190.0 370.6 182.8 371.5 173.1 372.5 160.9 376.7 96.7 377.4 89.8 378.0 85.0 378.6 82.6 379.0 82.4 379.3 85.1 379.6 91.7 380.9 134.4 385.4 198.6 387.7 189.4 388.3 187.9 388.7 187.8 389.0 188.0 389.6 189.6 391.6 197.6 392.2 199.5 392.9 200.7 393.2 200.9 395.1 201.1 398.7 201.9 400.3 201.9 402.2 201.5 403.9 200.9 405.8 199.6 406.8 199.3 407.7 199.6 410.0 201.2 411.6 201.8 415.2 202.4 419.0 202.7 420.7 202.6 422.3 202.3 423.6 201.8 426.1 200.4 427.4 200.2 428.7 200.5 432.0 202.4 433.6 202.7 434.9 202.6 437.8 202.0 438.7 202.0 442.3 202.8 444.6 202.9 448.1 202.6 450.1 202.1 452.3 202.0 455.5 202.4 457.2 202.3 458.5 203.0 459.7 203.2 465.9 203.3 467.2 201.9 467.8 201.9 468.8 202.7 469.4 202.9 471.4 201.5 472.7 201.2 474.3 200.2 474.9 200.1 475.6 200.3 477.5 201.9 479.8 203.2 480.1 203.3 482.4 203.2 484.0 202.5 485.9 202.2 487.9 202.7 489.5 202.7 490.8 203.3 492.7 203.3 494.0 202.1 494.6 201.8" stroke="#ff90d0"/>
<path d="M138.2 205.4L138.8 205.4 139.1 200.0 143.6 46.5 155.0 46.5 155.3 52.1 156.2 113.3 156.6 125.6 156.9 133.8 157.2 137.9 158.8 142.8 159.2 142.8 159.5 141.3 160.4 132.4 160.8 130.7 161.1 130.0 161.4 130.3 161.7 131.5 170.5 186.8 172.1 196.0 172.4 196.8 173.7 196.5 174.3 196.7 175.3 197.3 176.6 198.7 179.2 202.1 179.8 202.7 184.0 203.9 188.6 204.8 190.8 204.1 193.4 204.3 195.7 204.2 197.0 204.5 199.5 205.5 201.2 205.7 205.4 205.1 208.9 205.6 212.8 205.7 214.1 205.3 216.0 204.4 217.0 204.2 219.9 204.9 220.9 204.9 222.8 204.4 223.8 204.4 228.3 205.3 229.6 205.2 231.8 204.4 235.4 204.6 239.3 204.0 240.9 204.2 244.8 205.5 247.0 205.8 251.2 205.8 255.4 204.8 257.1 204.7 258.3 204.8 260.9 205.7 262.5 206.1 269.3 206.0 274.5 205.5 275.8 205.0 277.7 203.7 278.7 203.4 279.7 203.7 281.9 205.1 282.9 205.4 283.9 205.5 289.4 205.5 293.2 204.7 296.8 204.8 299.7 204.1 300.3 204.2 302.9 205.1 306.8 205.1 308.1 204.8 309.7 203.9 310.7 203.6 311.7 203.8 313.3 204.8 314.2 205.2 320.4 206.0 324.9 205.4 336.2 204.9 340.4 204.2 341.4 204.2 344.6 204.8 347.8 204.5 348.8 204.5 352.4 205.5 355.0 205.9 360.4 205.4 361.4 205.2 362.4 204.7 363.4 203.9 364.3 202.4 365.6 199.0 366.9 192.9 367.9 185.9 368.8 176.5 370.1 159.9 374.0 99.0 375.3 85.9 376.0 82.7 376.3 82.0 376.6 82.4 376.9 86.5 377.2 94.5 378.2 130.8 383.1 198.5 383.4 199.9 385.3 192.1 386.0 190.9 386.3 190.9 386.9 192.0 389.2 200.9 390.2 203.2 390.5 203.6 392.4 203.8 395.3 205.0 396.6 205.4 397.9 205.4 399.2 205.0 400.5 204.4 402.8 202.9 403.4 202.6 404.1 202.6 405.0 202.9 407.0 204.4 408.3 205.1 409.9 205.5 412.5 205.7 418.0 205.8 419.9 205.6 421.8 205.1 425.1 203.6 426.4 203.4 427.3 203.6 430.2 204.9 431.5 205.2 432.5 205.2 434.8 204.7 435.7 204.7 439.0 205.3 445.1 205.8 445.7 205.6 446.4 205.3 448.0 203.8 448.6 203.4 449.6 203.4 451.9 204.0 452.5 204.0 454.1 203.4 454.8 203.6 455.1 203.9 456.4 205.9 458.7 206.2 462.5 206.3 464.8 204.8 467.1 204.5 468.4 204.0 469.7 203.8 471.6 203.1 474.5 203.5 475.1 204.0 476.4 205.8 477.1 206.2 478.1 206.2 481.6 204.7 482.3 204.7 482.9 205.2 486.8 206.2 491.9 206.3 492.3 205.9" stroke="#80d080"/>
<path d="M135.8 208.7L136.4 208.7 136.7 202.9 141.3 49.5 152.6 49.5 152.9 54.8 153.9 117.4 154.2 130.1 154.5 138.6 154.8 143.1 155.5 144.2 156.5 147.6 156.8 148.1 157.1 147.6 157.4 146.2 158.7 136.8 159.0 137.4 167.8 189.8 169.4 198.5 169.7 199.7 170.0 200.1 171.3 200.0 172.0 200.1 172.9 200.7 174.2 201.9 177.5 205.3 181.0 206.4 185.2 207.4 185.5 207.4 187.1 206.8 188.1 206.7 189.1 206.9 191.3 207.7 194.6 207.6 198.5 208.3 202.0 207.9 205.2 208.4 209.8 208.3 211.1 208.1 213.0 207.3 214.0 207.2 217.5 208.2 221.1 208.1 224.6 208.6 225.9 208.3 228.5 207.3 229.5 207.3 231.4 208.0 232.7 208.2 234.0 208.0 236.3 207.3 237.6 207.1 241.8 208.0 246.3 208.6 248.2 208.7 250.5 208.4 253.7 207.3 255.0 207.1 256.0 207.2 259.2 208.3 262.1 208.6 266.0 208.2 270.8 208.0 272.1 207.6 274.4 206.4 275.4 206.2 276.6 206.5 279.9 208.0 282.1 208.4 292.5 207.8 296.0 206.8 297.0 207.0 299.3 208.2 300.9 208.4 304.1 207.8 306.4 206.9 307.3 206.7 308.3 206.9 310.2 207.9 311.5 208.2 313.8 208.3 316.7 208.7 321.2 208.6 325.8 209.2 329.6 209.2 330.9 209.0 333.2 208.3 336.1 206.9 337.4 206.7 338.4 206.8 341.3 207.8 342.2 207.8 344.5 207.4 345.5 207.4 349.0 208.4 353.5 209.0 357.4 209.0 359.0 208.6 360.0 208.3 361.0 207.5 361.9 206.3 362.9 204.3 363.6 202.4 364.9 196.7 366.1 187.7 367.1 178.3 368.1 166.7 372.3 105.6 372.9 98.7 373.6 93.7 374.2 90.9 374.5 90.3 374.9 91.3 375.2 96.2 376.5 138.6 381.3 204.6 383.3 196.4 383.9 194.6 384.2 194.3 384.6 194.3 385.2 195.5 387.1 203.2 387.8 205.2 388.4 206.4 388.8 206.7 390.1 206.7 391.0 206.8 394.6 207.9 395.9 207.9 396.8 207.7 400.1 206.0 401.4 205.7 403.3 206.2 406.5 208.1 408.1 208.7 410.7 208.9 415.3 208.9 416.9 208.7 418.5 208.3 422.4 206.2 424.0 205.7 425.3 206.1 427.9 207.7 429.5 208.2 432.7 208.1 438.2 208.7 443.0 208.6 444.0 208.3 445.6 207.2 446.3 207.0 446.9 207.1 448.5 208.1 449.5 208.3 450.2 208.2 451.8 207.1 452.7 206.8 453.4 207.0 454.7 207.9 455.3 208.2 456.9 207.9 458.9 208.3 460.5 207.8 462.4 208.6 463.1 208.4 465.0 206.7 466.6 206.4 468.2 205.7 468.9 205.9 469.9 206.9 470.5 207.3 471.8 207.2 472.4 207.4 474.1 209.2 476.3 209.0 479.2 208.2 480.2 208.2 481.5 208.5 483.1 208.1 483.8 208.3 484.7 209.2 489.9 209.2" stroke="#70e0f0"/>
<path d="M133.4 211.6L134.0 211.6 134.4 205.9 138.9 52.4 150.2 52.4 150.5 57.1 151.5 118.7 151.8 131.2 152.5 144.5 152.8 145.5 153.8 147.1 154.1 147.1 154.4 146.0 155.4 139.5 155.7 138.5 156.3 138.3 156.7 138.4 166.4 193.4 168.0 201.4 168.6 203.4 169.9 203.4 171.2 204.0 172.8 205.4 175.1 207.8 178.6 209.0 182.8 210.0 184.4 210.4 185.7 209.9 186.7 209.9 189.0 210.7 189.9 210.8 192.9 210.5 196.1 211.0 199.3 210.7 202.5 211.1 206.4 211.2 208.0 211.0 210.6 209.8 211.6 209.9 213.5 210.7 214.8 210.9 219.0 210.3 222.6 210.7 225.8 210.1 226.8 210.3 228.7 211.3 230.0 211.5 231.3 211.3 233.9 210.3 235.2 210.1 236.5 210.4 239.7 211.9 241.6 212.1 248.1 211.4 249.1 211.1 251.3 210.0 252.3 209.8 253.3 210.1 255.9 211.1 257.1 211.4 266.8 211.5 268.5 211.2 271.0 209.7 272.7 209.4 273.9 209.5 275.2 209.9 278.8 211.6 280.7 211.8 287.8 211.4 289.5 211.0 291.7 210.1 292.7 209.9 293.7 210.1 295.9 211.0 297.9 211.1 299.5 210.8 302.4 209.5 303.7 209.2 304.6 209.4 307.2 210.9 308.5 211.4 312.4 211.4 316.6 211.9 317.9 211.9 322.4 211.2 328.9 211.2 333.1 210.5 336.3 211.0 337.9 211.0 339.2 210.8 341.2 210.1 342.1 210.0 346.3 211.3 351.5 211.5 355.7 210.9 357.3 210.5 358.3 210.0 359.2 209.2 359.9 208.2 360.5 206.8 361.2 204.8 362.5 198.7 363.4 191.9 364.4 183.0 365.7 167.5 368.6 124.3 369.9 107.4 370.6 101.0 371.2 96.6 371.8 94.4 372.2 94.2 372.5 96.9 372.8 103.4 373.8 138.5 379.0 206.5 380.9 198.6 381.5 197.2 381.9 197.1 382.2 197.4 382.8 198.9 384.8 206.9 385.4 208.8 386.1 210.0 388.6 210.0 391.9 210.8 393.2 210.9 394.5 210.5 397.0 209.2 398.0 209.1 405.5 211.3 408.4 211.7 412.6 211.2 416.8 211.2 418.4 210.7 421.0 209.5 422.3 209.2 423.5 209.5 425.8 210.9 426.8 211.2 434.5 211.1 439.4 211.4 440.7 211.2 442.9 209.6 443.9 209.4 447.5 210.6 448.1 210.7 450.0 210.4 452.3 211.3 452.9 211.2 453.9 210.6 454.6 210.5 456.2 211.7 456.8 211.9 458.4 211.1 459.1 211.0 461.0 211.4 461.7 211.0 463.0 209.4 463.3 209.2 463.9 209.1 466.8 210.2 468.5 211.8 469.1 212.0 471.7 212.1 473.6 211.9 474.9 211.5 475.6 210.7 475.9 210.6 476.9 211.2 480.4 212.0 487.5 212.1" stroke="#c8a0ff"/>
<path d="M131.0 214.4L131.7 214.5 132.0 208.8 136.5 55.3 147.8 55.3 148.1 59.4 149.1 120.5 149.4 133.1 150.1 146.7 150.4 147.6 151.4 145.7 152.0 142.4 152.7 137.5 153.0 136.1 153.3 136.0 154.6 140.6 164.6 194.0 166.6 203.6 167.5 206.5 169.2 207.4 172.1 209.9 176.9 211.7 182.7 213.1 184.7 212.7 187.2 213.6 188.5 213.8 195.0 213.2 196.0 213.3 199.2 214.4 201.1 214.7 203.7 214.4 207.3 213.2 208.2 213.3 210.5 214.1 211.8 214.3 213.1 214.1 216.0 213.2 217.3 213.0 220.2 213.4 223.1 213.2 226.3 214.4 228.3 214.5 229.9 214.2 232.5 213.1 233.4 212.9 234.4 213.0 238.0 214.3 241.5 214.6 244.1 214.7 245.4 214.6 248.6 213.3 249.6 213.1 250.6 213.3 252.8 214.1 254.1 214.3 261.6 214.4 264.5 214.0 267.4 212.6 268.3 212.4 270.6 212.6 272.9 212.6 277.1 214.2 278.7 214.4 281.3 214.5 282.9 214.3 284.2 214.0 287.7 212.5 288.7 212.3 290.0 212.6 292.9 214.4 294.5 214.7 295.5 214.6 296.5 214.3 299.4 212.1 300.3 211.9 301.3 212.1 303.6 213.7 305.2 214.4 306.8 214.5 310.3 214.1 315.8 214.8 322.6 214.7 324.6 214.5 326.5 214.0 329.4 212.7 330.4 212.5 333.6 213.4 338.8 213.5 341.4 214.3 342.7 214.5 349.8 214.4 353.0 213.9 354.6 213.4 355.6 212.6 356.5 211.4 357.8 208.3 359.1 202.9 360.4 194.2 361.4 185.3 362.7 170.0 365.6 128.0 366.9 111.5 367.5 105.3 368.2 100.9 368.8 98.7 369.1 98.4 369.5 100.3 369.8 106.1 370.8 140.1 371.1 146.3 375.9 207.6 376.3 208.9 377.9 201.9 378.5 200.4 378.8 200.1 379.2 200.3 379.8 201.8 381.8 209.6 382.4 211.5 383.0 212.7 386.0 212.6 388.9 213.2 390.2 213.3 391.8 212.9 394.0 211.7 395.0 211.6 397.6 212.6 400.8 212.7 403.4 213.7 404.7 214.0 412.4 214.7 413.7 214.5 415.4 214.1 417.0 213.4 419.9 211.9 421.2 211.6 422.5 212.0 425.0 213.3 427.3 213.8 437.0 214.5 438.0 214.2 439.9 212.7 440.9 212.5 441.5 212.7 443.1 213.9 444.4 214.4 445.4 214.4 447.7 214.1 449.3 214.2 450.9 213.8 451.5 214.0 452.5 214.8 454.8 215.0 455.1 214.8 455.7 213.7 456.4 213.2 457.0 213.3 458.0 214.2 458.6 214.4 459.3 214.0 460.6 212.5 461.2 212.3 461.9 212.5 463.2 213.5 465.4 213.6 467.4 214.7 468.3 215.0 470.0 214.9 471.6 214.1 472.9 213.1 473.5 212.8 474.2 213.1 475.8 214.6 476.4 214.8 478.4 214.0 479.0 214.1 480.6 215.1 484.5 215.1 485.1 214.9" stroke="#d0c890"/>
<path d="M128.7 216.8L129.3 216.7 129.6 211.7 134.1 58.3 145.5 58.3 145.8 62.0 146.7 123.8 147.1 136.6 147.7 150.8 148.0 152.0 149.0 148.8 149.3 148.3 150.0 148.1 150.6 147.4 151.6 145.1 151.9 145.0 162.3 196.7 164.2 205.7 164.8 207.9 165.5 209.3 166.8 210.1 169.0 212.2 169.7 212.5 174.9 214.5 181.0 216.0 182.6 215.7 186.2 216.5 192.3 216.5 199.1 217.5 201.0 217.3 203.6 216.0 204.6 215.8 205.5 216.0 207.8 217.2 209.7 217.5 214.3 217.5 217.2 217.2 220.4 216.3 224.3 217.1 227.2 217.3 231.7 216.4 233.0 216.6 235.9 217.6 237.5 217.8 241.4 217.2 244.6 216.4 245.9 216.3 254.0 217.4 256.6 217.5 259.5 217.3 260.8 217.0 262.1 216.4 264.0 215.1 265.0 214.9 265.6 215.0 267.9 215.9 271.5 215.9 276.0 217.2 279.5 217.7 280.8 217.6 281.8 217.3 284.7 215.5 285.7 215.3 286.6 215.6 288.6 216.8 289.6 217.2 290.8 217.4 292.5 217.3 293.8 216.9 296.3 215.3 297.3 215.0 298.3 215.1 301.5 216.4 304.1 216.8 308.9 216.3 314.1 216.6 317.7 217.2 319.3 217.2 323.5 216.7 326.7 215.9 327.7 216.1 329.9 217.0 330.9 217.1 331.9 216.9 334.5 215.9 335.4 215.7 336.4 215.8 338.3 216.6 339.3 216.8 342.9 216.9 347.7 217.7 349.7 217.6 351.6 217.0 352.9 216.0 353.9 214.9 354.8 213.2 355.5 211.6 356.8 206.9 358.1 199.4 359.0 191.7 360.3 178.3 363.5 135.4 364.8 120.6 365.5 115.1 366.1 111.4 366.8 109.6 367.1 109.4 367.4 111.8 367.7 117.7 368.7 150.1 369.0 155.3 373.6 211.2 373.9 212.8 375.8 204.9 376.5 203.4 376.8 203.2 377.1 203.4 377.8 204.9 379.7 212.6 380.3 214.5 381.0 215.5 384.5 215.4 388.1 216.3 389.1 216.2 391.7 215.2 392.6 215.3 394.2 216.0 395.2 216.2 398.4 215.7 399.4 216.0 402.3 217.3 404.6 217.6 408.1 217.1 411.4 217.0 412.7 216.9 413.9 216.4 417.8 214.7 419.4 214.3 420.1 214.4 421.1 214.7 424.6 216.9 426.5 217.3 430.4 217.6 432.4 217.5 434.0 216.9 436.2 215.6 437.2 215.3 442.4 216.8 445.0 216.6 446.6 217.2 448.5 217.2 452.4 217.9 453.4 217.7 455.3 217.7 456.0 217.2 457.6 215.2 458.5 214.7 459.5 215.1 461.4 216.7 462.4 216.9 463.4 216.9 465.3 216.2 467.3 217.0 469.5 216.6 471.5 215.9 472.1 216.2 473.4 217.7 474.4 217.9 475.7 217.7 476.6 218.0 479.5 218.0 481.5 217.0 482.8 217.0" stroke="#d0d0d0"/>
<path d="M126.3 220.2L126.9 220.2 127.2 214.7 131.8 61.2 143.1 61.2 143.4 64.2 144.4 123.9 144.7 136.5 145.3 150.5 145.7 152.1 146.0 152.3 146.3 151.6 147.6 146.5 148.6 144.8 148.9 144.4 149.2 144.4 149.5 145.4 161.8 202.6 163.4 209.4 164.1 211.5 165.0 213.3 166.0 214.2 168.0 215.3 171.2 216.6 175.1 217.8 178.9 218.7 183.5 219.5 184.4 219.6 187.3 218.5 188.6 218.3 192.2 219.4 197.0 220.1 198.6 220.1 201.6 219.4 202.2 219.5 204.1 220.3 205.1 220.4 209.3 220.1 212.9 219.5 217.1 219.3 220.6 219.9 224.2 220.1 225.8 220.0 228.4 219.4 229.3 219.4 232.3 220.2 233.5 220.4 237.4 219.8 242.6 219.4 256.2 220.5 258.1 220.2 260.7 218.8 261.7 218.5 262.3 218.5 264.9 219.3 265.9 219.3 267.8 218.8 268.8 218.8 272.3 220.2 274.3 220.4 276.8 220.2 278.5 219.8 279.4 219.4 281.4 218.2 282.3 217.9 283.3 218.3 285.9 220.2 286.9 220.5 288.1 220.7 290.1 220.3 293.3 218.1 294.6 217.8 296.2 218.3 299.5 220.2 301.4 220.6 302.7 220.4 305.3 219.7 306.2 219.6 311.1 220.5 316.6 220.2 319.8 220.3 320.8 220.1 322.7 219.2 323.7 218.9 324.7 219.0 326.9 219.9 327.9 219.9 328.9 219.7 331.1 218.5 332.1 218.2 333.1 218.4 335.3 219.6 336.3 220.0 341.1 220.5 345.0 220.1 347.9 220.0 349.9 219.4 350.8 218.8 351.8 217.6 352.8 215.9 353.4 214.2 354.7 209.3 356.0 201.8 357.0 194.1 358.3 180.8 361.5 138.5 362.8 124.0 363.4 118.5 364.1 114.6 364.7 112.5 365.0 112.2 365.4 113.2 365.7 118.0 367.0 155.6 371.8 213.4 372.2 214.6 373.8 208.2 374.4 206.7 374.7 206.4 375.1 206.5 375.7 207.8 377.6 215.3 378.3 217.3 378.9 218.5 382.5 218.6 385.7 219.2 389.0 218.5 391.5 219.0 392.8 219.1 395.4 218.3 396.4 218.2 397.4 218.4 400.3 219.6 406.1 220.7 407.4 220.8 409.0 220.6 411.9 219.7 414.5 218.7 417.1 217.4 418.0 217.2 418.7 217.3 419.3 217.7 421.9 219.8 423.5 220.4 430.0 220.6 431.0 220.3 433.9 218.7 435.2 218.4 437.7 218.9 440.3 218.6 441.6 218.7 442.6 219.0 444.2 220.0 444.9 220.0 446.5 219.6 448.4 220.4 450.7 220.8 451.0 220.8 451.6 220.2 453.3 218.1 453.9 217.9 455.8 219.0 457.8 218.8 459.1 219.3 460.7 219.5 462.3 220.0 464.6 220.0 465.9 220.3 468.1 220.1 468.8 219.7 469.4 219.6 470.4 219.8 472.0 220.5 473.9 220.6 474.9 220.9 480.4 220.9" stroke="#e0c0c8"/>
<path d="M123.9 223.5L124.5 223.4 124.9 217.6 129.4 64.1 140.7 64.1 141.0 66.9 142.0 128.4 142.3 141.5 143.0 156.3 143.3 158.2 143.6 158.7 143.9 158.6 144.6 156.7 145.9 150.1 146.2 149.3 146.5 149.2 147.2 150.1 147.5 151.0 158.8 201.5 161.1 211.0 162.0 214.0 163.0 215.7 164.3 216.9 166.5 218.1 171.1 219.9 176.6 221.4 178.5 221.1 180.4 222.1 184.3 222.6 185.3 222.3 186.3 222.3 188.5 223.0 189.8 223.2 195.0 222.7 197.6 221.8 198.5 221.7 199.5 221.9 202.1 223.0 205.3 223.4 207.9 223.2 211.5 222.2 213.4 222.0 214.7 222.1 217.3 222.8 221.5 223.4 222.8 223.4 224.1 223.1 226.3 222.1 227.6 221.8 231.5 222.8 234.1 223.1 235.7 223.1 238.9 222.3 241.5 222.4 244.4 222.2 249.6 223.2 253.1 223.5 254.8 223.2 257.3 221.8 258.3 221.6 259.3 221.8 261.2 222.7 262.2 223.0 263.5 222.9 266.4 222.4 269.3 223.1 270.9 223.2 275.1 222.7 276.1 222.4 278.0 221.4 279.0 221.2 280.0 221.4 282.5 222.6 284.5 222.9 286.7 222.8 289.7 221.6 290.9 221.4 293.5 221.7 296.4 222.7 298.1 223.1 301.0 223.2 304.8 222.9 307.7 223.3 309.4 223.4 312.9 223.2 315.5 222.8 320.0 221.6 321.0 221.8 323.6 222.8 324.9 222.9 326.2 222.5 328.4 221.0 329.4 220.7 330.4 220.9 332.3 222.2 333.3 222.6 336.2 223.0 338.4 223.2 343.9 223.2 345.5 222.9 347.2 222.3 348.1 221.7 349.1 220.6 350.4 218.1 351.7 213.6 353.0 206.3 353.9 198.7 355.2 185.5 358.5 144.2 359.8 129.9 361.1 120.3 361.7 117.9 362.0 117.3 362.3 117.3 362.7 120.0 363.0 126.3 364.0 157.9 369.1 218.0 369.5 217.4 371.1 211.2 371.7 210.0 372.0 209.9 372.4 210.2 373.0 211.7 375.3 220.3 375.9 221.7 376.6 221.9 380.1 222.1 383.0 222.4 385.9 221.9 389.8 221.8 391.4 221.4 393.4 220.7 394.3 220.5 395.3 220.8 397.6 222.3 398.5 222.6 401.4 222.9 404.4 223.3 406.0 223.4 407.6 223.2 409.2 222.8 412.4 221.4 415.0 220.0 416.0 219.8 416.6 220.0 417.3 220.3 419.9 222.4 420.8 222.8 422.1 223.0 425.0 223.2 426.6 223.1 430.2 221.9 431.2 222.1 433.4 223.0 436.7 222.9 439.2 221.8 439.9 222.0 441.2 223.2 441.5 223.3 444.7 222.9 448.0 223.5 448.9 223.2 450.6 222.1 452.5 220.1 453.1 219.8 453.8 220.0 455.1 221.0 457.0 222.0 458.6 223.3 459.6 223.7 460.9 223.7 464.1 223.1 466.7 223.6 468.0 223.4 469.6 223.7 471.2 223.1 471.9 223.2 473.2 223.9 478.0 223.9" stroke="#e0c090"/>
<path d="M121.5 225.9L122.2 225.9 122.5 220.5 127.0 67.1 138.3 67.1 138.6 69.0 139.3 111.9 139.9 140.6 140.6 155.1 140.9 157.1 141.2 157.5 142.2 160.1 142.5 159.7 143.8 151.3 144.1 150.3 144.8 149.6 157.7 207.0 159.7 214.9 160.3 216.9 161.3 218.8 162.6 220.0 164.5 221.1 169.7 223.0 175.5 224.5 180.7 225.3 182.6 224.8 183.9 224.8 188.1 226.1 190.3 226.3 192.0 226.0 194.5 224.7 195.5 224.4 196.5 224.6 198.4 225.4 199.7 225.8 205.5 226.3 207.5 226.0 210.1 224.7 211.0 224.5 212.0 224.8 214.6 226.0 217.2 226.4 221.7 226.4 224.6 225.6 225.6 225.5 229.1 225.9 235.6 225.6 239.1 226.2 243.0 225.8 248.5 226.2 251.1 225.8 252.1 225.4 254.0 224.1 255.0 223.9 255.9 224.2 257.9 225.4 258.8 225.7 260.5 225.7 263.0 225.1 264.0 225.0 265.0 225.2 267.6 226.0 269.5 226.3 271.8 226.1 274.4 225.0 275.3 224.7 276.3 224.8 282.8 226.1 284.0 225.9 286.6 224.9 288.9 225.0 290.8 224.8 292.1 225.0 294.1 225.9 295.4 226.2 297.3 226.1 301.2 225.1 302.5 225.0 303.8 225.3 306.7 226.3 308.9 226.5 312.8 226.1 315.7 224.9 316.7 224.7 317.6 224.9 320.2 226.1 321.8 226.2 323.5 225.6 325.7 223.9 326.7 223.5 327.7 223.8 329.9 225.4 331.5 225.9 339.0 226.8 341.6 226.5 343.5 225.8 344.8 225.0 345.8 224.1 346.7 222.7 347.4 221.3 348.7 217.3 350.0 210.9 350.9 204.2 352.2 192.2 355.8 149.4 357.1 135.7 358.4 126.4 359.0 124.0 359.3 123.5 359.6 123.4 360.0 126.1 360.3 132.4 361.3 163.1 366.4 221.6 368.4 214.4 369.0 213.2 369.3 213.1 369.7 213.4 370.3 214.9 372.6 223.2 373.2 224.4 373.9 224.5 381.6 224.4 382.6 224.6 384.9 225.3 385.8 225.4 390.0 224.5 392.0 223.9 392.9 223.8 393.9 224.1 396.5 225.6 397.8 225.9 399.1 226.0 402.6 225.7 406.2 225.8 408.1 225.5 412.0 223.7 413.9 223.2 415.2 223.5 417.8 224.9 419.7 225.5 423.3 225.8 427.2 225.1 428.1 225.3 430.7 226.5 432.3 226.7 434.0 226.6 436.9 225.9 439.5 226.1 441.4 225.4 442.7 225.4 444.3 225.1 446.2 225.2 449.5 224.1 451.1 223.8 452.4 224.3 455.0 225.9 456.9 226.0 458.5 226.5 460.8 225.9 464.3 226.6 465.9 226.8 467.2 225.4 467.9 225.0 468.5 225.4 469.5 226.2 471.1 226.7 474.0 226.8 475.0 226.6 475.6 226.8" stroke="#a0f0f0"/>
<path d="M119.2 228.9L119.8 229.0 120.1 223.5 124.6 70.0 136.0 70.0 136.3 71.7 136.9 115.8 137.6 145.5 138.2 160.8 138.5 163.1 138.9 162.7 140.2 158.7 142.1 155.7 154.4 209.8 156.3 217.6 157.3 220.2 158.2 221.6 159.5 222.6 161.8 223.8 164.4 224.9 167.3 225.9 173.4 227.4 178.6 228.3 181.2 227.9 183.1 227.9 186.4 228.7 188.0 228.9 189.3 228.8 191.5 228.0 192.5 227.9 193.5 228.0 195.7 228.8 197.0 229.0 198.6 229.0 202.5 228.7 204.8 228.2 207.0 227.1 208.0 226.9 209.0 227.0 211.2 228.4 212.2 228.7 217.7 229.0 220.0 228.8 222.5 227.9 223.8 227.7 227.4 228.6 228.7 228.6 231.6 228.3 235.1 229.1 236.4 229.1 240.0 228.5 244.2 228.9 248.1 228.3 250.7 227.3 251.6 227.2 252.6 227.4 254.9 228.4 256.8 228.7 259.1 228.6 262.3 227.9 263.3 227.9 265.5 228.5 267.1 228.6 268.4 228.4 270.7 227.7 271.7 227.6 274.9 228.5 277.5 228.4 280.1 228.6 282.6 227.9 283.6 227.8 285.9 228.3 289.1 228.2 292.7 229.0 295.2 229.2 297.5 229.0 300.1 228.3 301.4 228.2 305.9 229.0 308.5 229.3 310.4 229.0 312.7 227.8 313.7 227.5 314.6 227.7 317.2 228.8 319.1 229.0 320.4 228.6 322.7 227.1 323.7 226.7 324.6 227.0 327.2 228.9 328.5 229.4 329.5 229.3 333.0 228.8 339.2 228.8 340.8 228.5 342.1 228.0 343.1 227.4 344.0 226.3 345.0 224.7 345.6 223.1 346.9 218.4 348.2 211.0 349.2 203.4 350.5 190.6 354.0 146.7 355.3 132.8 356.0 127.5 356.6 123.8 357.3 121.7 357.6 121.3 357.9 122.0 358.2 126.4 359.5 163.4 364.7 222.1 365.0 222.7 366.3 217.7 367.0 216.2 367.3 215.9 367.6 215.9 368.3 217.0 370.2 224.1 371.2 226.6 373.8 227.3 375.0 227.4 378.6 227.1 379.6 227.1 382.5 228.3 383.4 228.6 385.4 228.6 387.3 228.4 388.3 228.1 390.2 227.0 391.2 226.8 392.2 227.0 394.8 228.5 396.4 228.8 399.9 228.4 403.2 228.6 404.4 228.5 405.7 228.1 408.0 227.0 409.3 226.8 412.8 226.9 413.8 227.2 416.1 228.4 417.7 228.6 420.9 228.3 423.5 227.3 424.5 227.1 427.1 228.3 430.6 228.7 432.9 228.5 435.1 227.5 435.8 227.6 437.4 228.6 438.0 228.6 440.0 227.7 442.9 227.2 444.2 227.1 445.2 227.3 448.7 228.4 449.7 228.9 450.7 229.7 451.6 229.7 451.9 229.7 453.6 228.4 455.2 228.0 456.8 227.2 457.4 227.1 458.1 227.3 460.0 229.0 462.0 229.7 464.5 229.6 465.5 228.1 466.2 227.6 466.8 227.9 468.1 229.3 468.7 229.7 470.7 229.7 471.7 229.5 473.3 229.7" stroke="#a0c8ff"/>
<path d="M116.8 231.9L117.4 231.8 117.7 226.4 122.3 72.9 133.6 72.9 133.9 74.0 134.5 116.6 135.2 145.5 135.8 160.8 136.2 163.2 137.5 159.3 137.8 158.7 138.1 158.6 138.7 159.0 139.1 158.9 139.4 158.4 140.0 156.2 140.4 156.5 152.6 211.0 154.9 220.3 155.9 223.0 156.8 224.5 158.1 225.6 160.4 226.8 163.6 228.1 166.9 229.1 170.4 230.0 174.6 230.8 177.2 231.1 181.1 230.6 182.0 230.8 184.6 231.8 185.6 231.9 186.6 231.8 188.5 231.0 189.5 230.8 190.4 231.0 192.7 231.9 194.3 232.2 199.2 231.7 202.4 231.6 204.7 230.9 205.6 230.8 206.6 231.0 209.2 232.0 211.4 232.2 217.3 231.8 221.1 231.0 225.0 231.7 228.6 231.1 231.8 231.5 234.1 231.6 235.7 231.5 239.2 231.0 242.8 231.6 244.1 231.7 245.4 231.4 247.3 230.4 248.3 230.1 249.2 230.3 251.8 231.5 253.4 231.8 255.7 231.8 259.6 231.1 260.6 231.2 263.5 232.1 264.8 232.2 266.0 232.0 268.0 231.4 271.5 231.5 274.1 231.0 276.7 230.9 279.3 230.3 280.3 230.5 282.2 231.3 283.2 231.5 288.0 231.0 292.5 231.5 294.8 231.6 299.0 230.9 300.3 231.0 303.8 232.0 305.8 232.2 307.4 231.9 309.7 230.6 310.6 230.4 311.6 230.6 313.9 231.7 314.8 231.9 316.1 231.8 317.4 231.5 320.0 230.0 321.0 229.7 322.3 229.9 325.8 231.3 328.4 231.8 335.8 231.9 337.5 231.6 339.1 231.0 340.4 230.1 341.3 229.1 342.3 227.5 342.9 226.1 343.9 223.1 344.6 220.5 345.9 213.4 347.1 203.5 348.4 191.0 351.7 152.1 353.0 138.3 354.3 128.9 354.9 126.5 355.2 126.0 355.5 126.0 355.9 129.0 356.2 135.7 357.2 165.9 362.7 226.1 364.3 220.2 364.9 219.1 365.2 219.0 365.6 219.3 366.2 220.9 368.5 229.1 368.8 229.7 371.1 230.2 373.0 230.1 375.3 229.4 376.2 229.2 377.2 229.4 380.4 230.6 381.7 230.8 384.9 230.8 386.2 230.6 388.5 229.7 389.5 229.6 390.4 229.8 392.7 231.1 394.0 231.5 400.8 231.6 402.7 231.3 405.6 229.8 406.6 229.8 408.9 230.4 411.4 229.9 412.4 230.1 415.0 231.5 416.3 231.7 417.6 231.5 420.2 230.1 421.1 230.0 421.8 230.2 423.4 231.3 424.4 231.7 428.9 232.6 431.5 231.9 433.7 231.5 436.0 230.5 437.9 230.5 439.9 230.2 441.5 230.4 443.4 231.3 444.7 231.3 446.0 231.6 448.3 231.1 448.9 231.4 449.9 232.3 450.5 232.6 453.4 231.9 455.4 232.0 458.3 232.5 460.2 232.7 462.2 231.7 462.8 231.9 463.8 232.7 466.4 232.7 466.7 232.6 467.7 231.5 468.6 231.2 469.6 231.5 470.9 232.3" stroke="#7070ff"/>
<path d="M114.4 234.7L115.0 234.7 115.4 229.3 119.9 75.9 131.2 75.9 131.5 76.5 132.2 119.5 132.8 148.8 133.5 164.4 133.8 167.2 134.4 168.2 135.4 168.1 136.0 168.4 136.4 167.9 136.7 166.3 137.7 160.2 138.0 160.6 149.9 213.5 152.2 222.7 153.2 225.5 154.1 227.0 155.4 228.1 158.0 229.5 162.2 231.2 166.7 232.6 168.7 233.0 170.3 232.3 171.3 232.3 172.6 232.7 174.8 234.0 177.4 234.4 180.0 233.8 183.2 233.8 186.1 233.0 187.1 233.1 189.7 233.9 193.2 234.0 196.8 234.5 198.1 234.6 199.7 234.2 202.0 233.3 202.9 233.1 203.9 233.4 206.2 234.3 207.5 234.7 209.7 235.1 212.0 235.1 214.6 234.8 218.1 233.4 219.4 233.2 223.0 234.2 226.5 233.9 232.3 234.9 236.5 234.7 240.4 235.0 241.7 234.8 244.0 233.8 244.9 233.6 245.9 233.8 247.8 234.6 249.1 234.8 253.7 234.5 256.9 233.6 257.9 233.4 258.8 233.6 261.4 234.5 262.4 234.4 264.0 234.0 265.0 233.9 268.2 234.5 269.2 234.4 272.4 233.6 275.6 233.0 276.6 233.1 279.2 234.1 283.1 233.9 290.5 234.7 293.1 234.6 297.0 233.9 300.8 234.6 303.1 234.8 304.4 234.5 306.3 233.5 307.3 233.4 307.9 233.6 310.5 234.8 312.1 235.0 314.1 234.6 316.7 233.0 318.0 232.7 319.6 233.0 323.4 234.4 325.1 234.7 328.3 234.7 333.1 234.8 335.1 234.5 336.4 234.0 337.3 233.3 338.3 232.2 339.3 230.4 339.9 228.8 340.9 225.6 341.5 222.7 342.8 215.2 344.1 205.0 345.4 192.1 348.6 152.5 349.9 138.6 351.2 129.4 351.9 127.0 352.2 126.4 352.5 126.3 352.8 129.0 353.2 135.6 354.1 166.2 359.6 226.4 360.0 228.3 361.2 223.6 361.9 222.3 362.2 222.1 362.5 222.3 363.2 223.6 365.1 230.5 365.4 231.5 365.8 231.9 368.4 232.7 369.6 232.9 370.6 232.9 372.6 232.5 373.5 232.5 374.5 232.9 376.4 234.0 377.7 234.4 379.0 234.4 381.6 233.9 384.5 233.7 386.8 232.8 387.7 232.7 388.7 233.0 390.7 234.3 391.9 234.8 393.9 235.1 396.5 235.1 399.1 234.5 402.0 232.8 402.9 232.5 403.9 232.5 405.5 232.8 406.5 232.9 408.7 232.1 409.7 231.9 410.7 232.1 413.3 233.6 414.2 233.9 415.2 233.9 417.5 233.0 418.4 232.9 419.1 233.0 421.0 234.0 424.6 234.9 425.2 234.9 426.8 234.3 427.8 234.1 429.1 234.2 430.4 234.8 431.7 234.5 433.3 234.6 433.9 234.4 435.2 234.2 435.9 233.8 437.5 232.1 438.5 231.8 440.7 233.0 443.0 233.0 444.3 233.3 445.3 233.9 446.5 235.0 447.5 235.5 451.7 234.9 455.3 235.5 458.2 235.6 458.5 235.4 460.4 233.4 461.4 233.1 462.4 233.6 464.0 235.5 468.5 235.5" stroke="#ff7070"/>
<path d="M112.0 237.9L112.7 238.0 113.0 232.3 117.5 78.8 128.8 78.8 129.1 79.0 129.8 121.7 130.4 151.0 131.1 166.9 131.4 169.9 131.7 170.2 132.1 170.2 132.7 169.4 133.3 167.9 135.0 162.7 147.6 217.8 149.5 225.6 150.5 228.3 151.4 229.8 153.1 231.0 155.6 232.4 160.5 234.3 165.7 235.8 167.0 236.0 168.2 235.4 169.2 235.5 171.8 236.9 174.4 237.2 177.3 236.7 180.5 236.9 183.1 236.6 184.1 236.8 186.0 237.4 187.3 237.5 190.9 237.4 195.7 237.6 199.9 236.8 204.4 237.8 208.3 237.5 211.5 237.5 213.2 237.3 216.1 236.2 217.4 236.0 222.5 237.3 225.4 238.2 229.0 238.5 232.2 238.3 234.8 237.5 238.4 237.6 240.9 236.6 241.6 236.5 242.6 236.7 244.8 237.8 246.8 238.1 251.6 238.0 255.5 237.1 258.4 237.3 261.3 236.7 262.3 236.9 264.5 237.9 265.8 238.1 267.1 237.8 270.3 236.7 272.3 236.3 273.3 236.5 275.2 237.2 276.2 237.4 279.4 237.0 286.2 237.4 291.7 237.5 295.5 236.7 298.8 237.3 299.7 237.3 300.7 237.1 302.7 236.1 303.6 235.8 304.6 236.0 307.2 237.7 308.1 238.0 309.1 238.1 310.7 237.8 313.6 236.3 314.6 236.1 318.8 236.6 321.4 237.4 322.7 237.6 325.6 237.5 330.1 237.8 332.7 237.4 334.3 236.8 335.3 236.1 335.9 235.2 336.9 233.4 337.5 231.5 339.2 224.7 340.5 216.8 341.7 206.5 342.7 196.7 346.3 151.9 347.6 137.5 348.9 127.8 349.5 125.3 349.8 124.7 350.1 124.5 350.5 126.9 350.8 133.3 351.8 165.0 357.6 228.5 357.9 230.6 358.9 227.2 359.5 225.9 359.8 225.8 360.2 225.9 360.8 227.2 363.1 234.8 365.3 235.4 367.0 235.6 367.9 235.5 369.9 235.0 370.8 235.0 371.8 235.4 374.1 236.7 376.3 237.2 382.5 237.0 383.4 236.7 385.0 236.1 386.0 236.0 387.0 236.3 389.6 237.7 390.9 238.0 392.5 237.9 396.4 237.6 397.3 237.2 399.6 235.9 400.9 235.5 402.2 235.5 404.8 235.8 407.7 235.4 408.6 235.6 411.5 236.7 414.1 236.4 414.8 236.5 417.4 237.9 419.3 238.3 422.5 237.6 425.1 238.1 429.0 237.0 430.0 237.3 432.5 237.4 433.8 237.0 435.4 236.0 437.1 235.8 438.0 236.1 439.6 237.6 440.3 237.9 442.6 237.5 444.8 237.5 446.4 236.7 447.1 236.6 451.0 238.0 453.2 238.5 455.5 238.5 456.8 238.1 458.7 238.2 460.6 237.2 461.3 237.1 463.2 237.8 465.2 237.7 466.1 238.0" stroke="#7a7aff"/>
<path d="M109.7 241.0L110.3 240.9 110.6 235.2 115.1 81.7 126.8 81.7 127.4 123.2 128.1 152.0 128.7 168.0 129.0 171.1 130.0 172.6 130.3 172.7 130.7 172.0 131.9 162.7 132.3 161.7 132.6 162.2 145.5 219.1 147.8 228.4 148.7 231.1 149.7 232.6 151.3 233.9 154.2 235.5 159.1 237.3 164.3 238.7 165.5 237.8 166.5 237.6 167.5 238.1 169.4 239.7 173.6 240.2 176.2 239.7 179.4 239.7 180.7 240.0 183.0 241.0 188.5 241.2 193.0 240.9 196.2 239.8 197.5 239.7 200.4 240.0 205.0 241.2 206.9 241.3 208.8 241.2 211.4 240.6 215.0 238.4 216.3 238.0 217.9 238.4 221.1 240.5 222.7 240.9 226.3 240.6 234.4 240.2 235.3 240.0 237.9 238.9 238.9 239.1 241.5 240.7 242.8 241.0 246.3 240.7 250.2 240.7 253.4 240.0 257.3 239.7 258.3 239.8 260.5 240.4 262.2 240.4 265.1 240.0 268.0 238.6 268.9 238.4 269.9 238.6 271.8 239.8 273.1 240.2 276.0 239.9 279.0 240.4 281.9 239.8 282.8 239.7 286.7 240.7 288.0 240.8 289.9 240.5 292.2 239.4 293.2 239.1 294.1 239.1 296.1 239.7 297.0 239.8 298.0 239.4 299.6 238.6 300.3 238.5 301.2 238.7 303.5 240.0 306.1 240.3 308.0 240.2 310.6 239.0 311.3 238.9 314.2 239.5 316.8 239.4 320.0 240.1 328.1 240.8 330.3 240.8 331.9 240.4 332.9 239.7 333.9 238.6 334.9 236.7 335.8 234.2 337.4 228.1 338.7 220.8 339.7 213.3 341.0 200.5 345.5 146.3 346.8 135.9 347.5 132.9 348.1 131.4 348.4 131.5 348.7 135.1 350.0 171.5 355.9 234.2 356.2 233.6 357.1 230.4 357.8 229.3 358.1 229.2 358.4 229.4 359.1 230.7 360.7 236.2 361.0 237.2 361.3 237.6 363.9 238.1 366.8 237.7 367.8 237.8 368.8 238.1 371.4 239.4 373.0 239.8 374.6 239.7 377.8 239.0 381.1 239.3 383.3 238.4 384.3 238.3 385.3 238.6 387.2 239.8 388.2 240.3 389.5 240.6 391.1 240.6 393.0 240.3 396.2 239.3 399.5 238.7 402.7 239.0 405.9 238.1 408.8 238.5 411.1 238.2 412.1 238.4 414.0 239.8 415.0 240.2 416.3 240.4 418.5 240.4 421.1 240.7 426.0 240.1 427.9 239.6 429.8 239.8 430.5 239.4 431.8 238.2 432.4 237.9 433.1 238.0 436.0 239.3 437.6 240.5 438.2 240.8 438.9 240.8 440.8 240.0 441.5 240.1 443.1 240.7 443.7 240.6 445.4 240.2 446.6 240.6 447.3 240.7 448.6 239.9 449.2 239.8 449.9 240.1 451.2 241.3 451.5 241.5 452.5 241.5 454.4 239.8 455.0 239.6 456.3 240.0 458.3 241.1 459.2 241.4 460.9 241.3 463.1 240.6 463.8 240.5" stroke="#ff70ff"/>
<path d="M107.3 244.4L107.9 244.4 108.2 238.1 112.8 84.7 124.4 84.7 125.0 126.7 125.7 156.3 126.3 172.9 126.7 176.3 127.0 176.5 127.3 176.2 128.0 176.1 128.3 175.3 129.2 168.7 129.6 167.4 129.9 167.1 130.2 167.6 130.9 169.7 142.8 222.1 145.1 231.1 146.0 233.6 147.0 235.1 148.6 236.3 151.9 238.1 155.1 239.5 158.3 240.6 162.5 241.6 163.5 241.4 164.1 241.5 165.8 242.3 171.9 243.1 175.4 241.2 176.7 241.1 177.7 241.4 180.9 243.3 182.6 243.8 184.5 244.0 188.1 243.7 192.6 242.5 193.5 242.3 202.6 243.8 205.2 243.9 207.8 243.8 210.0 243.3 213.3 241.3 214.5 240.9 215.8 241.3 218.4 243.0 219.7 243.3 224.6 243.1 232.0 242.3 234.9 241.7 235.9 242.0 237.8 243.1 239.1 243.6 241.0 243.9 243.3 244.1 247.8 243.8 253.0 242.5 254.3 242.6 257.5 243.6 260.7 243.5 262.7 243.1 265.3 241.6 266.2 241.3 267.2 241.5 268.8 242.4 269.8 242.8 270.8 242.8 273.3 242.6 275.9 243.3 276.9 243.4 280.1 243.1 287.6 243.3 288.5 243.2 291.4 242.1 294.3 242.5 296.9 241.8 297.9 242.0 300.8 243.4 302.8 243.6 304.7 243.4 307.0 242.3 307.9 242.1 308.6 242.2 310.8 243.2 311.8 243.2 313.7 242.5 314.7 242.5 317.6 243.5 319.6 243.7 326.3 243.5 328.3 243.2 329.6 242.7 330.5 241.9 331.5 240.6 332.5 238.8 333.4 236.3 334.7 231.5 336.0 224.0 337.0 216.1 338.3 202.6 341.8 156.6 343.1 142.2 344.4 132.6 345.1 130.2 345.4 129.7 345.7 129.6 346.0 132.7 346.4 139.9 347.3 170.2 353.5 235.2 353.8 235.4 354.4 233.4 355.1 232.3 355.4 232.2 355.7 232.4 356.4 233.7 358.3 240.0 361.6 240.8 364.5 240.6 365.8 240.8 367.0 241.2 370.0 242.6 371.6 243.0 372.9 242.9 376.1 242.4 379.3 242.7 381.9 241.8 382.9 241.8 386.4 243.4 389.0 244.1 390.0 243.9 392.2 243.0 395.2 242.7 398.1 241.5 401.3 241.7 403.6 241.1 405.8 240.8 408.1 240.3 408.7 240.4 409.4 240.8 411.3 242.4 412.3 243.1 416.5 244.2 417.5 244.1 419.7 243.2 420.7 243.0 421.7 243.2 423.6 244.0 425.5 243.1 429.4 240.4 430.1 240.1 430.7 240.3 432.3 241.1 436.5 242.1 438.5 243.4 439.1 243.3 440.4 242.3 441.0 242.2 441.7 242.6 442.7 243.6 446.2 244.3 448.5 244.4 450.1 244.2 452.0 243.0 452.7 243.2 454.0 244.4 461.4 244.4" stroke="#70c070"/>
<path d="M104.9 246.9L105.5 246.9 105.9 241.1 110.4 87.6 122.0 87.6 122.7 127.3 123.3 155.9 124.0 172.0 124.3 175.5 124.6 176.2 124.9 175.9 126.2 170.1 126.5 169.7 127.2 170.1 127.8 168.8 128.2 169.4 140.8 224.7 143.0 233.8 144.0 236.6 145.0 238.1 146.6 239.5 149.5 241.0 153.4 242.6 157.9 244.0 160.5 244.6 161.4 244.4 162.1 244.4 164.4 245.3 168.6 245.9 169.2 246.0 170.2 245.7 172.8 244.2 173.7 244.0 174.7 244.3 177.3 245.9 178.9 246.3 181.8 246.5 186.0 246.5 187.6 246.3 190.2 245.6 191.5 245.6 195.7 246.1 198.3 247.0 201.5 247.3 205.4 247.0 207.0 246.7 208.6 245.8 210.9 243.8 211.8 243.4 212.8 243.8 215.1 245.9 216.0 246.5 217.7 246.9 220.2 247.2 221.9 247.0 224.8 246.3 230.9 245.0 231.9 245.1 233.8 246.0 235.1 246.3 241.2 246.5 246.4 246.3 247.4 246.1 249.6 245.0 250.6 244.9 251.6 245.2 254.2 246.4 256.4 246.6 259.3 246.1 262.2 244.6 263.2 244.4 263.9 244.5 266.1 245.6 267.1 245.8 270.3 245.7 273.6 246.3 276.5 245.9 277.8 245.8 282.0 246.6 285.2 246.9 287.1 246.6 291.0 245.4 293.3 244.5 293.9 244.4 294.9 244.6 297.5 245.8 299.7 246.1 301.7 245.9 303.9 244.7 304.9 244.5 305.9 244.7 307.8 245.9 308.8 246.1 309.7 245.9 311.4 245.2 312.3 245.1 313.3 245.3 315.6 246.3 317.2 246.5 324.3 246.3 325.3 246.1 326.2 245.7 327.2 244.9 328.5 243.1 329.5 241.4 330.4 239.1 331.7 234.6 333.0 227.3 334.0 219.6 335.3 206.4 338.8 159.9 340.1 144.8 341.4 134.5 342.1 131.7 342.4 131.0 342.7 130.7 343.0 132.1 343.3 137.8 344.3 170.1 350.8 237.7 351.1 238.5 352.1 236.2 352.4 235.9 352.7 236.0 353.0 236.3 353.7 237.8 355.3 242.9 358.9 243.8 361.8 244.0 365.3 244.5 368.5 245.5 369.8 245.8 371.1 245.7 374.4 244.8 377.6 245.1 379.9 244.2 380.8 244.2 381.8 244.6 384.1 246.2 385.4 246.5 386.6 246.4 389.2 245.3 392.5 245.4 395.4 244.6 396.3 244.6 398.6 245.1 399.6 245.0 403.4 243.2 404.7 242.9 405.4 243.1 406.0 243.4 408.3 245.6 409.3 246.3 410.9 246.8 416.0 246.8 418.3 246.5 421.9 246.5 422.8 246.3 424.4 245.1 425.4 244.8 426.1 244.9 427.0 245.5 428.0 245.6 430.3 245.5 432.5 244.9 433.2 244.9 434.8 245.7 436.7 245.7 441.9 247.0 443.2 246.8 447.1 247.1 448.0 247.3 450.3 247.2 459.0 247.3" stroke="#8070ff"/>
<path d="M102.5 249.4L103.2 249.5 103.5 244.0 108.0 90.5 119.6 90.5 120.3 131.3 120.9 161.0 121.6 178.0 121.9 181.8 122.2 182.7 122.6 183.1 122.9 183.2 123.2 182.7 123.8 180.7 125.1 175.4 125.5 174.9 125.8 175.3 137.7 227.6 140.0 236.5 141.0 239.0 142.3 240.7 144.2 242.1 147.4 243.8 150.7 245.2 153.9 246.3 157.5 247.3 161.7 248.1 168.1 248.9 170.7 246.8 171.3 246.6 172.0 246.6 173.0 247.0 175.2 248.5 176.5 249.0 180.7 249.8 183.0 250.0 184.6 249.8 186.9 249.0 187.8 248.9 191.4 249.4 195.9 249.1 204.0 249.5 204.9 249.2 205.6 248.8 208.5 245.6 209.5 245.2 210.4 245.6 213.0 248.3 214.6 249.3 215.9 249.5 219.2 249.6 222.7 250.1 223.7 250.0 224.7 249.6 227.2 247.9 228.2 247.7 229.2 247.9 231.8 249.2 233.1 249.5 234.7 249.6 243.1 249.4 244.4 248.9 246.3 247.8 247.3 247.6 248.2 247.8 250.2 248.8 251.5 249.3 252.8 249.5 254.1 249.5 256.0 249.1 258.9 247.6 260.2 247.2 261.5 247.5 264.4 248.5 267.6 248.5 270.5 249.5 271.8 249.7 276.4 249.0 282.2 249.3 284.1 249.2 285.7 248.7 288.3 247.2 289.6 246.9 290.9 247.3 293.5 249.1 295.1 249.4 297.0 249.4 298.3 249.1 300.9 247.6 301.9 247.3 302.8 247.5 304.8 248.8 305.8 249.1 307.0 249.0 309.0 248.4 310.0 248.3 310.9 248.4 313.2 249.5 314.5 249.7 321.6 248.8 323.5 248.1 326.8 245.6 328.0 243.6 329.3 239.7 330.6 232.9 331.9 222.7 333.2 209.2 338.1 146.7 339.4 135.9 340.0 132.9 340.3 132.0 340.6 131.6 341.0 132.4 341.3 137.3 342.3 170.3 349.1 240.1 349.4 240.2 350.0 238.9 350.3 238.6 350.7 238.6 351.0 238.9 351.6 240.3 353.3 245.2 355.5 245.9 362.9 246.9 365.9 248.1 367.1 248.4 368.4 248.3 371.7 247.4 373.0 247.3 375.5 247.7 378.5 246.9 379.4 247.1 381.4 248.3 382.3 248.7 383.3 248.7 385.2 247.9 386.2 247.6 387.2 247.8 389.1 248.6 390.1 248.7 394.0 247.3 394.9 247.4 396.9 248.0 397.8 247.9 398.8 247.4 400.7 246.0 401.7 245.6 402.7 245.9 405.6 247.9 407.9 248.8 411.4 249.5 413.7 249.5 415.9 249.9 419.2 249.9 420.1 249.4 422.1 248.0 423.0 247.7 424.0 247.9 425.0 247.8 426.9 248.6 427.9 248.7 428.9 248.2 430.5 246.9 431.1 247.0 432.7 249.3 433.4 249.7 435.3 249.1 436.6 249.1 437.6 249.3 438.5 249.9 440.5 250.2 442.1 249.0 442.7 248.9 444.7 250.2 445.3 250.0 446.6 249.2 446.9 249.3 447.9 250.3 455.4 250.3 456.6 249.7" stroke="#b070ff"/>
<path d="M100.2 252.8L100.8 252.9 101.1 246.9 105.6 93.5 117.3 93.5 118.6 160.5 119.2 177.1 119.5 180.9 119.9 181.8 120.2 181.2 121.5 174.9 121.8 174.4 122.4 174.1 123.1 173.3 123.4 173.5 137.0 232.6 138.9 240.1 139.9 242.5 140.9 243.9 142.5 245.1 145.7 246.8 149.6 248.4 154.1 249.8 159.0 250.9 164.8 251.8 165.7 251.7 168.3 250.1 169.6 249.9 170.9 250.2 174.1 251.8 176.4 252.3 179.3 252.4 185.1 252.0 189.0 252.7 193.2 252.6 196.1 253.0 201.0 252.5 202.2 252.3 203.5 251.5 205.8 249.3 206.4 249.0 207.1 248.9 208.1 249.2 210.7 251.2 212.3 252.0 214.2 252.5 217.1 252.6 219.4 252.6 221.0 252.3 222.0 251.8 224.2 250.2 225.2 250.0 226.2 250.4 228.4 251.7 230.7 252.1 239.4 252.3 241.0 252.0 243.3 251.1 244.3 251.0 245.2 251.2 247.2 251.9 248.8 252.1 250.4 251.9 254.6 250.9 255.9 250.7 264.3 251.0 267.2 252.1 268.2 252.2 274.3 251.9 281.1 252.5 282.1 252.4 283.0 251.9 285.9 249.3 286.9 249.1 287.9 249.5 290.1 251.4 291.1 251.8 292.1 251.9 294.0 252.1 295.3 252.0 297.9 251.0 298.9 250.9 299.8 251.2 301.8 252.4 303.4 252.7 304.7 252.5 307.3 251.2 308.2 251.0 312.1 252.4 317.0 252.6 318.2 252.4 319.2 252.1 321.8 250.6 324.1 249.6 325.0 248.7 325.7 247.6 327.0 243.7 328.3 237.0 329.2 229.9 330.2 220.9 331.5 205.8 336.0 142.8 337.3 131.2 338.0 127.9 338.3 126.9 338.6 126.4 338.9 127.2 339.2 132.3 340.2 166.7 347.3 239.4 347.6 242.6 348.3 241.7 348.6 241.7 348.9 242.0 349.6 243.4 350.9 247.4 351.2 247.7 352.5 248.1 355.7 248.6 358.3 249.6 361.5 249.8 364.1 250.9 365.4 251.2 366.7 251.1 369.9 250.4 370.9 250.5 372.8 251.3 373.8 251.5 374.8 251.3 376.4 250.6 377.0 250.5 377.7 250.6 379.6 251.4 380.3 251.5 382.5 250.9 383.5 250.9 386.1 251.8 387.1 252.0 388.4 251.9 391.6 251.1 394.8 251.7 395.5 251.5 396.1 251.0 398.0 249.0 399.0 248.6 399.7 248.8 401.9 250.3 405.8 252.0 410.0 252.2 412.9 252.0 413.9 252.3 415.5 253.1 417.1 252.6 419.7 251.3 420.7 251.0 422.3 251.2 424.2 252.2 425.5 252.2 426.2 251.8 427.5 250.2 428.1 249.7 428.7 249.6 430.0 249.8 431.3 249.6 432.0 249.7 433.6 250.9 435.5 251.2 437.5 251.2 438.8 251.9 439.4 252.1 440.7 251.8 442.3 252.0 443.9 251.3 444.6 251.3 446.8 252.5 447.5 252.5 449.1 252.2 449.7 252.4 450.7 253.2 454.3 253.2" stroke="#f080e0"/>
<path d="M97.8 255.2L98.4 255.2 98.7 249.9 103.3 96.4 114.9 96.4 116.2 164.8 116.8 182.0 117.2 186.1 117.5 187.2 117.8 186.8 119.7 179.9 120.1 179.7 120.7 179.8 121.0 180.2 133.0 233.0 135.3 242.0 136.2 244.6 137.5 246.4 139.8 248.0 143.0 249.8 146.2 251.1 149.5 252.2 153.0 253.1 157.2 254.0 162.1 254.7 166.3 253.0 167.2 252.7 168.2 252.7 169.5 253.1 172.1 254.7 173.1 255.1 174.0 255.2 178.6 255.0 182.1 254.2 186.3 255.0 187.9 254.9 191.2 254.5 196.0 255.3 198.6 255.4 200.2 254.8 203.8 252.3 205.4 251.8 206.7 252.2 209.2 254.0 210.9 254.8 213.4 255.4 216.4 255.7 218.3 255.5 221.2 253.8 222.2 253.6 223.1 253.8 225.7 255.2 228.0 255.6 234.4 255.4 240.6 254.6 245.1 255.4 247.0 255.4 249.3 255.2 252.5 254.3 257.7 254.0 261.6 254.2 264.8 255.3 267.4 255.7 269.0 255.7 272.6 255.1 278.7 255.4 279.7 255.3 280.6 255.0 282.9 252.9 283.9 252.3 284.8 252.6 287.4 254.8 288.7 255.2 290.3 255.3 292.0 255.0 294.9 253.6 295.8 253.4 296.8 253.7 299.1 255.0 300.4 255.4 302.3 255.3 304.9 254.3 305.9 254.1 306.8 254.3 309.1 255.2 310.7 255.3 315.5 254.9 320.7 252.9 321.7 251.9 322.3 250.8 323.3 248.3 323.9 246.0 325.2 239.6 326.5 230.3 328.5 209.6 333.0 147.2 334.3 135.4 334.9 131.9 335.6 130.2 335.9 130.3 336.2 133.9 337.2 167.2 337.5 172.7 344.6 245.3 344.9 245.5 345.3 245.1 345.6 245.1 346.2 245.8 347.9 250.2 349.5 250.8 352.4 251.5 355.3 252.7 356.6 252.8 358.5 252.5 359.5 252.5 362.7 253.8 364.3 254.1 365.6 254.1 368.9 253.4 371.4 253.8 372.4 253.8 374.3 253.2 375.3 253.0 377.6 253.4 379.8 253.4 382.7 254.9 384.4 255.2 386.0 254.8 388.2 253.5 389.2 253.2 390.2 253.1 392.1 253.5 393.1 253.4 395.4 251.8 396.0 251.6 397.0 251.8 398.6 253.0 399.2 253.3 402.5 253.6 407.3 255.4 409.6 255.1 410.9 255.1 411.8 255.3 412.8 255.8 413.4 255.8 415.1 255.3 416.4 254.1 417.6 253.6 419.3 252.3 419.9 252.2 420.9 252.8 422.5 254.8 423.1 255.1 423.8 255.0 425.1 254.4 426.4 254.1 428.3 254.1 429.0 253.8 429.6 253.7 432.2 254.4 433.8 255.2 434.4 255.4 436.1 255.5 437.7 255.2 439.6 255.4 441.2 254.6 441.9 254.4 442.5 254.7 443.5 256.0 443.8 256.1 451.9 256.1" stroke="#ff9090"/>
<path d="M95.4 258.6L96.0 258.5 96.4 252.8 100.9 99.3 112.5 99.3 113.8 165.8 114.5 183.0 114.8 187.2 115.1 188.4 115.4 188.1 115.8 188.7 116.4 191.1 116.7 191.4 117.0 190.5 117.4 188.6 118.3 181.5 118.7 181.7 130.9 236.3 133.2 245.4 134.2 247.9 135.5 249.6 137.4 251.0 140.6 252.7 143.9 254.1 147.4 255.2 151.3 256.2 155.8 257.1 160.0 257.7 161.6 257.2 163.9 257.0 166.2 256.4 167.1 256.3 170.7 257.5 175.5 258.3 176.5 258.2 179.4 257.5 184.6 257.4 189.1 257.5 192.7 258.2 194.3 258.2 195.9 257.8 198.1 256.4 199.1 255.9 201.4 255.8 203.6 255.3 204.9 255.5 208.2 257.3 210.4 257.8 212.4 257.9 214.3 257.7 215.6 257.4 217.5 256.6 218.5 256.4 219.8 256.6 223.0 257.8 224.6 258.0 232.1 257.9 236.3 257.3 240.8 257.1 242.1 257.2 245.0 258.0 246.3 258.1 249.2 257.7 252.1 257.7 255.3 256.7 257.9 256.3 259.2 256.5 262.1 257.6 265.4 258.2 267.0 258.2 269.9 257.8 275.4 258.3 276.3 258.1 277.3 257.7 280.2 255.2 281.2 254.8 281.8 254.9 282.5 255.3 285.4 257.6 286.4 257.9 287.3 258.1 288.9 257.8 291.5 256.6 292.5 256.4 293.5 256.7 295.4 258.0 296.7 258.4 298.0 258.4 299.6 258.1 302.5 256.9 303.5 256.6 304.4 256.7 307.0 258.0 308.6 258.2 311.6 257.7 314.8 256.5 317.0 256.6 318.0 256.3 319.0 255.3 319.6 254.2 320.9 250.7 322.2 244.9 323.5 236.1 324.5 227.3 325.8 212.4 329.3 161.3 330.6 144.9 331.9 133.6 332.6 130.6 332.9 129.8 333.2 129.5 333.5 131.4 333.8 137.9 334.8 171.7 338.0 205.3 342.2 248.3 342.6 248.6 342.9 248.4 343.2 248.5 343.5 248.9 345.2 252.6 349.4 253.7 351.9 255.1 352.9 255.5 354.2 255.7 357.4 255.4 360.7 256.4 362.3 256.7 363.9 256.6 366.8 256.2 367.8 256.3 369.7 256.8 370.7 256.9 371.7 256.6 373.9 255.5 374.9 255.3 375.5 255.3 376.5 255.7 379.4 257.6 381.3 258.0 382.6 258.0 383.6 257.7 387.2 255.9 388.1 255.8 390.4 256.1 393.0 254.9 393.9 254.8 397.2 256.1 400.4 255.9 402.0 256.1 403.3 256.7 405.6 258.3 406.9 258.7 408.5 259.0 412.4 258.2 414.6 258.2 415.9 257.9 416.2 257.7 417.5 255.8 418.2 255.5 418.8 255.7 419.8 256.8 420.4 257.1 422.4 256.0 424.0 256.2 425.6 254.9 425.9 254.8 426.3 254.9 426.9 255.4 428.8 258.1 429.8 258.7 430.8 258.9 432.1 258.1 433.7 258.3 435.3 257.8 435.9 258.0 437.6 259.0 438.2 258.8 439.2 258.1 439.8 257.9 441.1 258.2 442.7 258.4 444.0 258.9 444.7 259.0 445.6 258.9 447.9 258.0 449.5 258.6" stroke="#c0c070"/>
<path d="M93.0 261.5L93.7 261.5 94.0 255.7 98.5 102.3 110.1 102.3 111.4 168.2 112.1 185.5 112.4 189.9 113.1 192.1 113.7 193.0 114.0 193.0 114.3 192.3 116.3 184.6 116.6 184.2 128.9 239.1 131.2 248.2 132.1 250.7 133.4 252.4 135.4 253.8 138.6 255.6 143.4 257.5 148.9 259.0 151.5 259.6 152.8 259.5 154.7 260.1 156.0 260.3 157.0 260.4 158.9 260.3 161.2 260.8 162.2 260.6 164.8 259.1 165.7 258.9 166.7 259.1 169.3 260.5 170.6 260.8 172.2 260.7 175.1 259.9 176.1 259.8 177.0 260.0 179.3 260.7 180.9 261.0 183.2 261.0 186.7 260.3 187.7 260.4 190.3 261.2 191.6 261.3 192.9 261.1 195.8 259.6 198.0 259.5 198.7 259.4 200.6 258.2 201.6 257.8 202.2 257.9 202.9 258.2 205.8 260.6 207.4 261.2 208.7 261.3 210.6 261.0 213.9 259.9 214.8 259.8 217.4 260.5 220.3 260.7 223.6 261.5 227.4 261.9 229.7 261.7 232.3 260.6 233.3 260.4 236.2 260.7 238.7 260.6 242.0 261.2 242.9 261.1 244.9 260.4 245.9 260.2 248.4 260.7 249.7 260.7 251.0 260.3 253.9 258.9 254.9 258.7 256.2 259.1 258.1 260.5 259.1 261.0 260.1 261.3 261.7 261.4 267.2 261.1 270.7 261.3 272.7 261.2 274.3 260.7 276.9 259.1 278.5 258.8 280.7 259.2 284.0 260.9 285.6 261.2 286.9 261.0 288.8 260.0 289.5 259.9 290.4 260.0 293.0 261.1 294.6 261.3 298.2 261.0 300.8 260.1 301.7 259.9 302.7 260.1 305.0 261.0 306.6 261.2 307.9 260.9 310.5 259.5 311.4 259.3 312.1 259.4 314.3 260.3 315.3 260.3 316.0 259.9 316.9 258.9 317.6 257.9 318.5 255.6 319.2 253.4 320.5 247.2 321.8 237.8 322.7 228.4 324.0 212.7 327.6 159.3 328.9 142.2 330.2 130.8 330.8 127.8 331.1 127.1 331.5 127.0 331.8 130.2 332.1 138.0 332.8 163.7 333.1 171.2 340.8 251.5 341.5 251.8 341.8 252.2 343.1 255.0 346.3 256.1 348.9 257.6 350.2 258.1 351.8 258.4 354.4 258.2 355.4 258.3 358.3 259.5 359.6 259.8 360.9 259.7 363.8 258.8 364.8 258.7 365.7 258.9 367.7 259.6 368.6 259.6 369.6 259.2 371.5 257.5 372.5 257.2 373.5 257.7 375.4 259.8 376.4 260.6 377.4 261.0 378.6 261.2 379.9 261.1 381.2 260.8 384.5 259.4 385.8 259.1 388.3 259.1 391.2 259.7 395.1 260.0 396.1 259.8 398.0 258.8 399.0 258.6 400.0 258.9 402.9 260.6 405.1 261.4 407.4 261.4 410.6 260.7 412.6 261.0 413.5 260.5 415.8 258.3 416.8 257.9 417.7 258.1 420.3 259.6 421.0 259.8 421.6 259.8 422.6 259.0 423.9 256.9 424.2 256.7 424.5 256.6 425.2 257.3 426.8 260.1 427.8 260.8 429.7 260.8 431.6 261.7 434.2 261.9 434.9 261.8 435.8 261.2 436.5 260.9 437.1 261.2 437.8 261.9 438.1 262.0 439.4 262.0 440.7 261.1 441.3 261.2 442.0 261.9 442.3 262.0 447.1 262.0" stroke="#9090ff"/>
<path d="M90.7 263.9L91.3 263.9 91.6 258.7 96.1 105.2 107.8 105.2 109.1 171.4 109.7 189.1 110.0 193.6 110.4 195.3 111.7 194.9 112.0 194.2 112.3 192.6 113.3 186.1 113.6 186.0 125.5 240.2 128.1 250.8 129.1 253.3 130.4 255.0 132.7 256.7 136.2 258.6 139.4 259.9 143.0 261.1 146.9 262.1 151.4 262.9 154.3 263.4 156.2 263.1 158.2 263.4 159.1 263.4 160.4 263.0 162.7 261.5 164.0 261.2 165.0 261.5 167.9 263.5 169.5 264.0 170.5 263.9 172.4 263.2 173.4 263.1 177.6 263.9 181.4 263.8 185.0 263.6 187.9 264.2 188.9 264.3 189.8 264.0 191.8 262.9 192.4 262.7 193.4 262.7 195.0 263.3 196.0 263.3 196.9 262.8 198.9 261.1 199.9 260.8 200.5 260.9 201.2 261.4 203.7 263.8 204.7 264.3 205.7 264.4 207.3 264.2 210.5 262.9 211.5 262.7 214.4 263.6 218.0 263.1 221.2 263.9 225.1 264.2 227.0 264.2 229.9 263.7 233.1 264.0 236.4 263.6 239.3 264.1 242.5 263.8 246.1 264.4 247.0 264.2 248.3 263.7 251.2 261.6 252.2 261.3 253.2 261.5 255.4 263.2 256.7 263.7 261.9 263.8 265.4 263.4 269.6 264.3 270.9 264.1 273.8 262.7 276.4 262.8 278.4 262.6 279.3 262.8 281.6 264.0 282.9 264.4 283.9 264.3 285.5 263.5 286.4 263.3 289.0 263.9 291.6 263.8 295.5 264.0 296.8 263.7 298.7 262.7 299.7 262.6 300.7 262.8 302.6 263.7 303.6 263.9 304.9 263.8 306.8 262.9 307.8 262.6 308.7 262.8 311.3 263.9 312.3 263.9 313.3 263.6 314.2 262.7 315.2 261.2 316.2 258.8 316.8 256.6 318.1 250.3 319.4 241.0 320.4 231.9 321.7 216.7 325.2 165.0 326.5 148.8 327.8 138.0 328.5 135.3 328.8 134.6 329.1 134.6 329.4 138.1 329.7 145.9 330.4 170.8 330.7 178.1 338.1 254.8 338.5 254.5 338.8 254.5 339.1 254.7 340.4 257.1 343.3 258.4 346.2 260.1 348.2 260.8 350.1 261.1 353.3 261.2 356.2 262.2 357.5 262.5 359.5 262.4 362.7 261.8 363.7 261.9 365.6 262.5 366.3 262.6 367.2 262.2 369.2 260.4 369.8 260.1 370.1 260.1 370.8 260.5 372.7 262.7 373.7 263.5 375.0 264.0 376.6 264.3 378.2 264.3 379.5 264.0 383.1 261.9 384.3 261.4 385.6 261.5 387.9 262.6 388.9 262.8 391.1 262.3 394.0 262.5 395.0 262.2 396.3 261.4 396.9 261.3 397.9 261.6 400.8 263.5 401.8 263.6 404.4 263.1 409.5 264.5 410.2 264.2 411.2 263.3 411.8 263.0 413.1 262.9 414.7 262.2 418.9 261.2 421.5 260.3 421.8 260.5 422.5 261.1 424.4 264.0 425.1 264.4 426.0 264.8 428.6 264.9 429.3 264.1 429.9 263.6 430.6 263.5 432.2 264.2 432.8 264.0 434.1 263.3 434.8 263.5 435.7 264.3 436.4 264.5 437.0 264.0 438.0 262.7 438.6 262.2 439.0 262.2 439.6 262.8 441.2 264.9 444.8 264.9" stroke="#80e0b0"/>
<path d="M88.3 267.4L88.9 267.4 89.2 261.6 93.8 108.1 105.4 108.1 106.7 171.7 107.3 189.1 107.7 193.6 108.0 195.5 109.0 191.5 109.6 190.5 110.6 186.8 110.9 186.7 111.2 187.6 124.1 246.2 126.1 254.1 127.0 256.6 128.3 258.3 130.6 259.9 134.2 261.7 138.7 263.5 143.8 264.9 149.7 266.0 156.8 266.9 158.4 266.2 161.0 264.6 162.3 264.2 163.2 264.5 165.5 265.8 166.5 266.1 167.4 266.2 169.7 265.7 170.7 265.7 174.2 266.7 176.5 267.1 179.1 266.9 182.9 266.0 186.2 266.2 187.1 265.8 188.4 265.1 189.4 264.9 190.4 265.2 192.3 266.5 193.3 266.6 194.3 266.2 196.8 263.9 197.8 263.5 198.8 263.8 201.4 266.1 202.7 266.7 204.3 266.6 207.8 265.8 208.8 265.9 211.1 266.7 212.0 266.7 215.3 265.9 216.2 266.0 218.8 267.0 220.1 267.1 222.7 266.9 225.9 266.2 226.9 266.2 229.1 266.7 230.1 266.8 234.0 266.0 238.2 266.0 239.5 266.2 242.1 267.3 243.7 267.4 244.7 267.1 245.6 266.7 246.6 266.0 248.9 263.8 249.8 263.5 250.8 263.9 252.7 265.7 254.0 266.4 259.8 267.2 261.1 267.1 263.7 266.6 266.9 266.6 267.9 266.3 269.9 265.2 270.5 265.0 271.1 265.1 273.7 265.9 277.0 265.3 280.2 266.3 283.4 265.5 284.4 265.8 287.0 267.0 290.2 267.5 292.8 267.2 296.0 265.9 297.0 265.6 298.0 265.8 299.9 266.8 300.9 267.0 301.8 266.7 303.5 265.8 304.1 265.6 305.1 265.7 306.7 266.4 307.7 266.5 308.6 266.4 309.9 265.7 311.2 264.5 312.2 263.0 313.2 260.7 313.8 258.6 315.1 252.7 316.4 243.7 317.4 234.6 318.6 219.2 322.2 165.8 323.5 148.8 324.8 137.3 325.4 134.3 325.8 133.5 326.1 133.3 326.4 136.1 326.7 143.4 327.7 177.1 335.4 258.0 335.8 257.9 336.1 258.0 337.1 259.2 340.6 260.7 343.8 263.3 345.8 264.4 347.7 264.8 350.6 264.1 351.6 264.2 354.5 265.6 355.8 265.9 357.1 265.8 360.3 265.0 361.3 265.0 362.9 265.3 363.9 265.3 364.8 264.8 366.5 263.6 367.1 263.4 367.8 263.4 368.4 263.7 370.7 265.7 371.6 266.3 372.9 266.7 374.9 266.9 376.8 266.9 378.1 266.5 379.1 266.0 381.3 264.4 382.3 264.1 383.3 264.3 385.5 265.9 386.5 266.1 389.1 265.5 390.1 265.6 391.7 266.0 392.3 265.9 394.6 264.6 395.5 264.4 396.5 264.5 399.4 265.7 401.7 267.1 403.3 267.0 405.9 267.6 407.2 267.8 409.1 266.4 412.3 265.8 415.6 263.1 416.2 263.0 417.8 263.2 419.1 262.8 419.8 263.0 420.1 263.3 422.0 266.6 423.3 267.4 424.6 267.7 427.2 267.9 428.5 267.2 430.4 267.9 431.7 267.6 432.7 267.9 439.2 267.9 439.8 267.6 441.4 267.7 442.4 266.8" stroke="#90c0ff"/>
<path d="M85.9 270.7L86.5 270.6 86.9 264.5 91.4 111.1 103.0 111.1 104.3 176.3 105.0 194.4 105.3 199.3 105.6 201.4 105.9 201.0 107.2 192.9 107.5 192.4 107.9 192.6 108.5 193.9 108.8 194.3 109.2 194.2 109.5 194.6 121.1 247.7 123.4 256.8 124.3 259.1 125.6 260.7 127.9 262.4 131.5 264.3 136.3 266.3 142.1 267.9 145.4 268.5 147.0 268.4 148.3 268.5 149.6 268.7 151.8 269.5 156.3 269.9 156.7 269.9 157.6 269.4 159.9 267.7 160.9 267.4 161.8 267.6 164.4 269.0 167.3 269.1 170.6 270.0 174.4 269.7 179.0 269.9 182.8 269.2 185.4 268.1 186.1 268.0 187.0 268.2 189.3 269.4 190.6 269.6 192.2 269.0 194.8 266.8 195.8 266.4 196.4 266.6 197.0 267.0 199.6 269.8 200.3 270.1 201.2 270.4 202.2 270.3 204.8 269.5 208.7 269.9 213.2 269.4 214.2 269.5 216.8 270.3 218.0 270.4 219.3 270.2 221.9 269.3 222.9 269.1 223.9 269.3 226.1 270.0 227.7 270.2 229.4 270.2 232.6 269.5 234.8 269.2 236.1 269.3 238.4 269.8 239.7 269.8 242.0 269.5 243.2 269.1 244.2 268.5 246.2 266.6 247.1 266.1 248.1 266.6 251.0 269.8 252.0 270.3 253.3 270.6 255.5 270.4 261.0 269.1 264.3 269.2 266.8 268.4 267.8 268.5 270.1 269.8 271.0 270.0 272.0 269.9 274.3 268.8 275.2 268.6 277.8 269.2 280.4 268.9 283.6 269.8 287.5 270.0 291.7 270.0 295.3 268.8 298.2 269.3 300.4 268.7 301.1 268.7 303.7 269.9 305.0 270.2 306.3 270.0 307.5 269.4 308.8 268.2 309.8 266.8 310.8 264.8 311.4 262.9 312.7 257.4 314.0 249.2 315.3 237.6 316.6 222.7 321.1 160.7 322.4 149.1 323.1 145.7 323.4 144.8 323.7 144.3 324.0 144.9 324.3 149.5 325.3 182.6 325.6 188.3 332.4 259.5 332.7 260.2 334.4 261.5 337.3 262.7 340.2 264.8 342.1 265.8 346.0 266.9 347.0 266.9 348.9 266.6 349.9 266.7 353.1 268.3 354.7 268.7 356.3 268.5 359.9 267.0 362.8 266.5 364.1 266.8 366.0 267.5 369.3 269.5 370.2 269.9 371.5 270.1 374.1 270.0 375.1 269.9 376.0 269.5 379.0 267.1 379.9 266.9 380.9 267.4 382.8 269.2 383.8 269.6 384.8 269.6 387.4 268.5 389.9 268.6 392.5 267.6 393.5 267.5 394.8 267.7 397.4 268.6 399.3 268.8 400.9 269.7 401.6 269.9 403.2 269.3 405.1 269.2 407.1 268.4 407.7 268.4 409.0 268.8 409.6 268.8 410.3 268.3 411.9 266.5 412.2 266.3 412.9 266.2 416.1 267.7 417.7 267.9 418.7 268.7 421.3 270.2 422.9 270.7 423.5 270.7 424.8 270.1 426.1 270.2 426.8 270.0 427.4 269.6 428.7 268.2 429.4 267.7 430.0 268.0 431.3 269.8 431.9 270.3 434.2 270.5 436.1 270.5 437.1 270.8 440.0 270.8" stroke="#ff90d0"/>
<path d="M83.5 273.6L84.2 273.6 84.5 267.5 89.0 114.0 100.6 114.0 101.9 175.8 102.6 193.3 102.9 198.1 103.2 200.2 103.6 200.3 104.2 199.8 104.5 199.0 105.8 191.3 106.1 191.0 106.5 191.6 107.1 193.8 119.4 250.2 121.7 259.7 122.6 262.3 123.3 263.4 123.9 264.1 126.2 265.7 129.7 267.5 134.3 269.3 139.1 270.7 144.6 271.8 150.7 272.5 153.6 272.6 154.9 272.4 155.9 271.9 158.2 270.2 159.1 269.9 160.1 270.1 162.7 271.4 166.6 272.6 168.2 272.8 174.6 272.8 176.3 272.6 177.9 272.1 181.1 270.6 182.4 270.4 183.4 270.9 185.0 272.2 185.9 272.8 186.9 273.1 187.9 273.1 188.9 272.9 189.8 272.5 190.8 271.8 192.7 270.0 193.4 269.6 194.0 269.4 195.0 269.7 197.3 271.5 198.5 272.2 199.5 272.4 201.8 272.4 205.3 273.2 207.9 273.1 210.8 271.9 211.8 271.7 212.8 271.8 215.7 272.8 216.6 272.8 218.9 272.1 219.9 271.9 224.4 273.1 226.7 273.3 228.0 273.1 230.9 271.9 231.8 271.7 232.8 271.9 236.4 273.2 238.3 273.5 239.6 273.3 240.6 272.8 241.5 271.9 243.8 269.1 244.8 268.7 245.7 269.2 248.3 271.9 249.3 272.5 250.6 272.7 255.7 272.7 259.0 272.0 263.8 271.3 264.8 271.5 267.4 272.8 269.0 272.9 270.3 272.6 273.2 271.3 276.4 270.9 277.7 271.2 280.6 272.8 282.2 273.1 289.7 272.7 291.0 272.3 293.2 271.2 295.2 270.9 296.4 271.0 297.4 271.2 300.0 272.5 301.6 272.9 304.2 272.9 305.8 272.4 306.8 271.7 307.8 270.6 308.7 268.8 309.4 267.2 310.3 263.8 311.0 260.9 312.3 252.9 313.2 244.9 314.5 231.5 318.1 185.0 319.4 170.2 320.7 160.3 321.3 157.6 321.6 157.0 322.0 156.8 322.3 158.9 322.6 164.8 323.6 197.2 329.4 258.3 329.7 261.3 330.1 261.7 331.3 262.8 334.3 264.6 337.5 267.9 339.4 269.2 341.4 269.9 343.0 270.2 344.3 270.1 346.5 269.6 347.5 269.6 348.5 270.1 350.7 271.9 352.0 272.3 353.3 272.3 354.6 271.8 357.8 269.7 359.1 269.2 360.1 269.3 362.4 270.8 365.3 271.3 368.2 272.8 369.5 273.1 371.1 273.2 372.4 273.1 373.3 272.8 374.3 272.2 376.3 270.3 377.2 269.9 378.2 270.2 381.1 272.2 382.4 272.5 383.4 272.4 385.3 271.8 387.9 272.0 389.5 271.8 390.8 271.2 392.7 270.0 393.7 269.7 394.3 269.8 395.3 270.3 397.9 272.6 398.5 273.0 399.2 273.1 400.8 272.9 402.4 273.3 403.4 272.8 407.3 269.8 408.6 268.7 409.5 268.2 410.2 268.3 410.8 268.8 413.4 271.2 414.1 271.4 415.3 271.0 416.0 271.0 416.6 271.6 417.6 271.9 420.5 273.4 420.8 273.5 421.8 273.2 422.8 273.7 425.0 273.7 425.4 273.5 426.3 272.1 427.0 271.8 427.6 272.4 428.6 273.7 437.0 273.7 437.3 273.7 437.6 273.3" stroke="#80d080"/>
<path d="M81.2 275.8L81.8 275.8 82.1 270.4 86.6 116.9 98.3 116.9 99.6 180.5 100.2 198.7 100.5 203.9 100.9 206.3 101.2 206.7 101.5 206.3 102.8 200.9 103.4 199.7 104.1 199.0 116.0 253.9 118.0 261.9 119.0 264.5 120.2 266.3 122.8 268.2 126.4 270.2 131.2 272.1 136.7 273.7 141.2 274.6 143.2 274.3 144.2 274.6 145.4 275.2 150.3 275.7 151.6 275.8 152.6 275.6 153.8 275.0 156.4 273.2 157.1 273.0 158.0 273.0 161.6 274.1 164.8 276.0 166.8 276.5 171.9 276.3 173.9 276.0 175.5 275.4 177.8 273.8 178.7 273.4 179.7 273.6 182.0 275.4 182.9 275.9 184.2 276.0 186.2 275.9 188.1 275.1 191.0 272.6 192.0 272.2 192.9 272.4 194.9 273.9 195.9 274.3 198.8 274.4 202.3 275.5 203.9 275.6 205.5 275.5 206.8 275.2 209.1 274.3 210.1 274.3 213.0 275.0 215.9 275.2 218.1 276.1 219.4 276.3 220.7 276.2 224.3 275.5 227.5 274.1 228.2 273.9 229.5 274.2 231.4 275.3 232.7 275.9 234.3 276.1 235.9 275.9 237.2 275.6 238.2 275.2 241.1 272.5 242.1 272.2 243.0 272.5 245.3 274.5 246.6 275.3 247.9 275.7 249.8 275.9 254.0 275.8 257.9 274.8 259.5 274.5 260.8 274.7 263.4 275.6 265.0 275.6 267.9 275.1 271.1 273.7 272.4 273.5 274.0 273.8 277.3 275.7 279.2 276.0 285.3 275.9 287.3 275.7 288.9 275.0 291.5 273.5 292.5 273.2 293.1 273.2 293.7 273.5 296.3 275.4 298.0 276.0 299.2 276.1 301.2 275.9 302.8 275.5 303.8 275.1 304.7 274.3 305.7 272.9 306.7 270.9 307.3 269.0 308.6 263.7 309.9 255.6 310.9 247.4 312.2 233.4 315.4 189.6 316.7 174.1 318.0 163.9 318.6 161.3 319.0 160.7 319.3 160.7 319.6 163.7 319.9 170.1 320.9 201.8 326.7 263.5 327.0 264.1 328.0 265.2 329.0 266.0 331.6 267.4 335.4 270.7 338.0 272.1 340.0 272.7 341.9 273.1 345.8 272.7 348.7 274.0 350.0 274.3 351.3 274.2 352.2 273.8 355.1 271.7 356.1 271.4 357.1 272.0 359.0 274.2 360.0 274.7 360.6 274.7 362.2 274.1 363.2 274.0 363.9 274.1 366.8 275.4 369.7 275.7 371.0 275.4 373.6 273.7 374.5 273.4 375.5 273.6 378.4 275.2 379.7 275.4 381.0 275.2 383.6 274.0 384.5 274.1 387.4 274.8 388.4 274.7 389.1 274.3 391.0 272.6 392.0 272.2 392.6 272.4 393.3 272.8 395.2 274.9 396.2 275.6 399.1 276.0 399.7 275.9 401.3 274.8 402.0 274.6 403.6 274.9 404.2 274.8 404.9 274.2 406.5 271.5 407.2 271.0 407.5 271.0 408.5 271.6 410.4 274.3 411.0 274.8 411.4 274.9 412.0 274.7 413.0 273.9 413.6 273.6 414.3 273.8 415.6 274.8 417.8 275.7 418.5 275.6 419.8 274.6 420.4 274.4 421.1 274.9 422.0 276.2 422.7 276.5 423.0 276.3 424.0 275.3 424.6 275.1 424.9 275.3 425.9 276.7 435.3 276.7" stroke="#70e0f0"/>
<path d="M78.8 278.6L79.4 278.6 79.7 273.3 84.3 119.9 95.9 119.9 97.2 180.6 97.8 198.4 98.2 203.5 98.5 206.0 99.1 207.2 99.5 207.1 99.8 206.3 100.1 204.6 101.1 198.6 101.4 198.2 102.0 198.7 114.6 257.1 116.6 265.2 117.5 267.9 118.2 269.0 118.8 269.7 121.1 271.3 124.7 273.2 129.8 275.3 135.6 276.8 139.2 277.5 140.8 277.5 142.1 277.9 143.1 278.1 149.2 278.6 150.5 278.5 151.5 278.1 152.4 277.5 155.0 275.3 155.7 274.9 156.3 274.9 157.0 275.0 157.9 275.6 160.8 278.3 161.8 278.8 163.1 279.0 169.6 278.7 171.5 278.4 173.1 277.5 175.1 275.5 176.0 275.1 177.0 275.6 179.3 278.1 180.2 278.7 181.2 278.8 184.4 278.6 185.7 278.2 187.0 277.4 189.0 275.6 189.6 275.2 190.2 275.1 191.2 275.5 192.8 276.6 193.8 277.1 199.0 278.4 200.6 278.5 202.5 278.4 207.7 277.5 210.0 277.9 212.5 278.0 215.1 278.8 216.4 279.0 222.2 278.5 225.5 277.3 226.4 277.4 229.0 278.3 234.8 278.3 236.1 277.8 238.4 276.2 239.7 275.9 241.3 276.4 245.2 278.4 247.1 278.9 249.0 279.0 252.0 278.7 256.5 277.4 257.8 277.6 260.7 279.0 262.9 279.2 264.9 278.9 266.2 278.4 267.1 277.8 269.4 275.9 270.4 275.5 271.3 275.8 274.3 277.8 275.9 278.3 277.8 278.5 284.3 278.4 285.2 278.2 286.2 277.8 288.5 275.8 289.4 275.3 290.4 275.6 292.7 278.0 293.3 278.5 294.3 279.0 295.9 279.2 298.5 279.1 299.8 278.9 301.1 278.4 302.4 277.5 303.3 276.3 304.3 274.5 304.9 272.8 306.2 267.9 307.5 260.2 308.5 252.1 309.8 238.2 312.7 199.6 314.0 184.4 315.3 174.3 315.9 171.8 316.3 171.2 316.6 171.6 317.2 181.9 318.2 211.5 323.0 263.8 323.4 264.9 325.3 267.2 328.2 269.3 331.4 272.7 333.1 274.0 335.6 275.3 338.9 276.0 340.5 276.0 342.7 275.3 343.7 275.2 344.7 275.4 347.3 276.6 348.9 276.8 350.2 276.2 352.4 274.0 353.4 273.6 354.4 274.2 356.6 277.0 357.6 277.5 358.6 277.5 360.5 276.9 361.5 276.8 364.7 278.0 366.7 278.3 367.9 278.1 370.5 277.3 371.8 277.2 373.4 277.5 376.4 278.6 377.6 278.7 378.9 278.5 381.2 277.5 382.5 277.2 383.8 277.4 385.7 278.2 386.7 278.2 387.7 277.6 389.3 275.3 389.9 274.8 390.2 274.8 391.2 275.2 393.5 277.8 396.1 279.4 399.3 279.6 400.9 279.4 401.9 279.1 404.1 276.1 405.8 274.8 406.4 274.5 407.0 274.8 408.0 275.7 410.3 278.8 410.9 278.6 412.5 277.9 413.5 277.7 414.5 278.0 417.1 279.3 419.0 279.6 431.9 279.6 432.9 278.6" stroke="#c8a0ff"/>
<path d="M76.4 282.4L77.0 282.4 77.4 276.3 81.9 122.8 93.5 122.8 94.8 184.0 95.5 202.2 95.8 207.5 96.1 210.2 97.1 213.0 97.4 213.3 97.7 212.9 98.7 209.5 99.7 204.4 100.0 203.6 111.3 258.1 113.6 267.9 114.5 270.4 115.8 272.0 119.0 274.3 122.9 276.3 127.1 277.9 132.0 279.3 136.5 280.3 137.8 280.1 139.4 280.7 143.6 281.3 145.5 281.1 148.8 281.2 150.1 281.0 151.4 280.2 153.9 277.6 154.9 277.3 155.9 277.9 158.5 280.9 159.1 281.3 160.1 281.7 162.0 281.8 167.8 281.7 168.8 281.5 170.1 280.8 172.4 278.6 173.3 278.3 174.3 278.9 175.9 280.4 177.2 281.3 178.8 281.7 181.1 281.7 182.4 281.5 183.7 281.0 185.0 280.0 186.9 278.0 187.5 277.5 188.2 277.3 188.8 277.4 189.5 277.8 192.4 280.2 193.7 281.0 195.3 281.6 198.9 282.3 200.1 282.2 201.4 281.9 202.7 281.5 205.3 280.2 206.9 279.9 208.5 280.2 211.1 281.4 212.7 281.8 218.6 281.4 219.9 281.0 221.8 280.1 222.8 279.9 223.7 280.1 226.0 281.2 227.3 281.6 228.6 281.8 230.5 281.8 231.5 281.6 232.5 281.2 235.4 278.8 236.7 278.3 237.6 278.4 239.2 278.9 242.5 280.8 243.8 281.4 245.4 281.7 247.3 282.0 248.6 281.9 249.9 281.6 252.8 279.8 253.8 279.6 254.8 280.0 257.3 282.1 258.6 282.4 259.9 282.4 263.8 281.4 264.8 280.9 266.7 279.5 267.7 279.1 268.6 279.4 271.2 281.5 272.5 281.9 274.5 282.0 278.3 281.6 282.2 281.7 283.5 281.3 286.1 279.2 287.1 278.9 288.0 279.4 290.0 280.9 291.6 281.5 298.0 282.0 299.0 281.9 300.0 281.6 301.0 280.9 301.6 280.1 302.6 278.5 303.2 276.9 304.5 272.1 305.8 264.6 306.8 256.6 308.1 242.9 311.3 199.4 312.3 188.1 312.9 182.3 313.6 178.2 314.2 176.1 314.5 175.9 314.8 177.8 315.2 182.9 316.5 218.4 321.0 266.9 322.6 268.9 325.5 271.2 328.7 274.8 331.0 276.4 334.6 277.9 338.1 278.9 341.7 278.6 342.6 279.0 344.9 280.4 345.9 280.6 346.5 280.5 347.2 280.1 349.7 277.4 350.7 277.0 351.7 277.5 353.9 279.8 355.2 280.6 356.5 280.8 358.5 280.4 359.4 280.4 362.3 281.5 363.3 281.7 364.6 281.5 367.8 280.2 370.4 279.8 372.0 280.0 374.6 281.1 375.9 281.3 377.2 281.2 379.5 280.2 380.4 280.0 381.4 280.1 383.0 280.8 384.0 280.8 385.0 280.3 386.9 278.5 387.9 278.3 388.8 278.7 392.4 281.6 393.4 282.1 394.3 282.3 396.3 281.4 398.2 281.3 398.9 281.1 400.1 280.2 402.4 278.0 403.1 277.6 403.7 277.5 404.7 277.7 405.6 278.2 407.9 280.4 408.9 281.0 409.8 281.2 410.5 280.9 411.8 279.8 412.4 279.8 413.4 280.5 414.7 281.9 416.3 282.4 417.3 282.5 417.6 282.3 418.9 280.2 419.5 279.8 420.2 280.3 421.5 282.1 422.1 282.5 429.5 282.5 430.5 281.8" stroke="#d0c890"/>
<path d="M74.0 284.6L74.7 284.6 75.0 279.2 79.5 125.7 91.1 125.7 92.4 185.9 93.1 204.1 93.7 212.3 94.1 212.9 94.4 212.4 95.3 207.9 95.7 207.0 96.0 206.8 96.3 207.0 96.6 206.9 97.0 205.9 97.3 206.4 108.6 263.1 109.9 269.0 110.9 272.1 111.8 273.8 113.4 275.2 116.7 277.3 120.2 279.1 125.4 281.1 131.5 282.7 134.1 283.2 135.7 283.1 137.0 283.6 138.6 283.9 146.7 284.7 147.7 284.4 148.7 283.9 149.6 283.0 151.6 280.6 152.5 280.2 153.5 280.8 155.4 283.3 156.7 284.4 158.0 284.7 162.6 284.8 164.5 284.7 165.8 284.5 166.8 284.0 169.0 282.4 170.0 282.1 171.0 282.3 173.9 283.9 175.5 284.5 178.7 285.0 180.6 284.9 182.3 284.1 185.2 280.9 185.8 280.4 186.5 280.2 187.1 280.3 187.8 280.7 190.3 283.8 191.3 284.7 192.3 285.2 193.6 285.4 195.8 285.2 200.4 284.4 201.6 283.7 203.6 282.2 204.6 281.8 205.5 282.0 207.5 283.5 208.8 284.1 214.3 284.6 215.9 284.3 218.5 283.0 219.7 282.7 221.4 283.0 224.6 284.5 225.9 284.6 227.8 284.4 229.4 284.1 232.0 282.4 233.3 282.1 237.2 282.4 238.2 282.8 240.7 284.2 241.7 284.5 243.0 284.6 245.6 284.5 246.9 284.3 247.9 283.9 250.1 282.4 250.8 282.2 251.7 282.4 254.6 284.3 255.6 284.5 257.2 284.7 259.5 284.6 261.1 284.4 262.4 283.8 264.3 282.4 265.3 282.1 266.3 282.5 268.9 284.5 269.8 284.9 270.8 285.0 276.9 284.9 278.9 284.6 280.2 284.1 282.7 282.4 283.7 282.1 284.7 282.3 286.9 283.7 288.2 284.2 291.5 284.0 295.7 284.4 297.3 284.1 298.6 283.6 299.5 282.9 300.5 281.6 301.8 278.5 303.1 273.0 304.1 266.6 305.0 257.9 306.0 246.9 309.2 200.4 310.2 188.3 311.2 179.9 311.8 176.9 312.1 176.3 312.5 176.6 312.8 179.8 313.1 186.1 314.1 217.1 318.6 267.6 318.9 269.3 319.9 270.4 322.2 272.6 324.8 276.0 325.7 277.0 327.3 278.2 329.9 279.6 332.8 281.0 334.8 281.6 336.4 281.8 338.6 281.1 339.6 280.9 340.6 281.3 342.5 282.6 343.5 282.8 344.5 282.5 346.7 280.8 347.4 280.6 348.0 280.5 349.0 280.8 350.0 281.3 353.2 283.5 354.5 283.9 357.7 283.4 360.9 284.0 364.2 283.2 368.7 283.2 370.0 283.4 372.9 284.7 374.5 284.9 375.8 284.5 378.7 283.2 381.6 283.4 382.9 283.2 385.5 281.8 387.4 281.3 388.1 281.4 388.7 281.8 391.0 284.3 392.0 284.9 392.6 284.7 393.9 284.0 394.5 284.2 395.8 285.0 397.8 283.7 398.7 282.4 399.4 281.8 400.0 281.8 401.3 282.4 402.0 282.4 404.2 281.4 404.6 281.5 405.2 282.0 407.1 284.7 409.4 283.8 411.3 283.5 412.3 283.9 413.3 285.0 414.6 285.3 415.5 285.4 416.8 285.0 418.4 285.1 420.1 284.9 420.7 285.0 421.7 285.5 425.2 285.5 426.5 285.1 428.1 283.9" stroke="#d0d0d0"/>
<path d="M71.7 287.7L72.3 287.7 72.6 282.1 77.1 128.7 88.8 128.7 90.1 187.4 90.7 205.4 91.4 213.8 92.3 216.0 92.7 216.3 93.0 215.7 93.3 214.2 94.3 208.3 94.6 207.2 94.9 207.2 106.2 266.1 107.2 270.8 108.2 274.3 109.1 276.2 110.4 277.5 114.0 279.9 117.9 281.9 123.0 283.9 128.8 285.4 131.7 286.0 133.0 285.9 134.7 286.5 135.6 286.6 143.1 287.4 145.0 287.4 146.3 286.9 147.3 286.1 149.2 283.8 149.8 283.3 150.5 283.1 151.5 283.6 153.7 286.2 154.4 286.7 155.3 287.3 156.6 287.5 161.5 287.7 163.1 287.4 165.7 285.5 166.6 285.2 170.8 285.9 173.1 286.8 174.4 287.2 177.0 287.4 178.9 287.2 180.5 286.6 183.4 283.7 184.4 283.4 185.4 283.9 187.6 286.4 188.9 287.2 189.9 287.4 193.5 287.2 197.0 287.6 198.0 287.5 198.6 287.2 200.9 285.3 201.9 284.8 202.8 285.1 204.8 286.7 206.1 287.5 207.4 287.7 209.9 287.9 211.9 287.7 214.5 286.7 215.8 286.5 219.3 286.7 222.5 287.8 224.5 287.8 226.1 287.3 229.0 285.2 230.0 285.0 232.6 285.6 234.5 285.4 235.5 285.4 236.4 285.8 238.7 287.1 240.6 287.5 243.9 287.4 245.2 287.1 247.4 286.2 248.7 286.1 249.7 286.4 252.6 288.0 253.9 288.3 255.2 288.4 256.5 288.3 259.0 287.8 262.3 286.3 263.6 286.0 264.9 286.2 268.1 287.3 272.3 287.8 274.2 287.7 275.5 287.4 276.5 287.1 278.8 285.8 279.7 285.6 283.0 286.1 286.2 287.2 287.8 287.5 293.9 287.3 295.6 287.0 296.5 286.7 297.5 286.0 298.1 285.2 298.8 284.1 299.4 282.4 300.7 276.7 301.7 269.8 302.7 260.4 303.6 248.3 307.2 196.2 307.8 189.5 308.5 184.9 309.1 182.7 309.5 182.7 309.8 185.2 310.1 190.7 311.4 226.7 315.3 270.0 316.6 272.0 319.5 274.9 322.4 279.1 324.0 280.9 325.3 281.9 326.6 282.6 333.0 284.9 334.3 285.0 336.6 284.1 337.6 283.9 338.5 284.2 340.1 285.2 341.1 285.3 343.4 284.4 344.7 284.3 347.9 284.7 351.1 286.4 352.4 286.7 355.7 286.2 358.6 286.4 361.1 286.1 364.1 286.4 366.6 285.6 367.6 285.5 368.9 285.8 371.8 287.3 373.4 287.6 374.4 287.4 376.7 286.5 379.6 286.0 380.5 286.0 382.5 286.6 383.8 286.5 385.4 285.5 386.3 285.4 387.3 285.7 389.6 287.4 390.2 287.6 391.2 287.2 394.1 285.0 394.8 284.8 396.7 285.7 398.0 285.6 399.3 285.8 401.2 285.6 401.9 286.0 402.8 287.1 404.4 287.8 405.1 287.8 406.1 287.5 407.7 286.8 409.0 285.8 409.6 285.6 410.3 285.8 411.9 287.3 412.5 287.2 413.5 286.4 414.1 286.2 414.8 286.8 415.8 288.4 417.0 288.4 418.0 287.6 418.3 287.5 418.7 287.6 419.3 288.3 419.6 288.4 421.6 288.4 423.5 287.4 425.1 286.2 425.8 286.1" stroke="#e0c0c8"/>
<path d="M69.3 290.4L69.9 290.5 70.2 285.1 74.8 131.6 86.4 131.6 87.7 191.2 88.3 209.8 89.0 218.6 89.3 219.3 90.6 218.2 90.9 217.8 92.2 212.2 92.5 211.8 92.9 212.2 103.2 268.1 104.2 272.9 105.1 276.5 106.1 278.3 108.0 280.2 111.6 282.5 115.8 284.7 121.3 286.8 127.4 288.4 134.5 289.6 142.6 290.4 143.3 290.3 144.2 289.8 146.8 287.1 147.5 286.6 148.1 286.4 148.8 286.4 149.7 286.8 152.6 289.6 153.9 290.4 155.2 290.8 157.5 290.8 159.7 290.5 162.0 289.2 163.0 288.9 165.9 289.6 168.1 288.8 169.1 288.7 173.3 289.8 175.3 290.0 176.9 289.9 177.8 289.6 178.5 289.2 181.1 286.4 182.0 286.0 183.0 286.4 185.3 289.2 186.2 290.1 187.5 290.7 188.8 290.9 193.0 290.8 194.6 290.6 195.9 290.1 198.5 288.2 199.5 288.0 200.5 288.3 203.4 290.1 205.3 290.6 207.9 290.4 211.1 289.2 212.1 289.0 214.7 289.4 217.6 289.2 220.5 290.1 222.1 290.3 223.7 289.8 226.0 288.2 226.9 287.8 227.6 287.9 229.2 288.5 229.9 288.6 232.4 288.1 233.4 288.2 234.4 288.7 237.0 290.4 237.9 290.8 238.9 290.9 240.5 290.6 243.7 288.5 245.4 288.2 247.3 288.6 250.5 290.4 251.5 290.8 252.5 290.9 255.1 290.7 258.3 289.4 259.6 289.2 262.2 289.3 265.1 290.3 267.0 290.5 271.9 290.0 274.8 289.0 275.7 288.9 278.3 289.5 281.2 289.3 284.5 290.5 285.8 290.8 287.0 290.8 290.3 290.4 293.5 290.6 294.5 290.4 295.4 289.7 296.1 288.8 296.7 287.5 297.4 285.6 298.7 279.6 299.6 272.4 301.3 254.4 304.8 200.5 305.8 190.8 306.4 187.3 306.8 186.7 307.1 187.0 307.4 190.1 307.7 196.1 309.0 231.9 312.6 271.6 313.5 272.9 316.1 275.8 319.0 280.7 320.0 282.0 321.0 283.0 322.9 284.4 326.1 286.3 328.4 287.5 330.0 288.0 331.3 288.2 332.3 288.2 334.9 287.3 335.8 287.1 338.1 287.4 340.4 287.3 342.9 287.9 345.5 287.6 346.5 287.8 349.1 289.4 350.4 289.8 351.7 289.6 353.9 288.7 355.2 288.6 357.5 288.8 360.1 289.9 361.0 290.1 362.0 290.0 364.3 289.4 365.2 289.3 368.5 290.0 370.1 290.1 371.7 289.7 374.3 288.2 376.2 287.9 377.2 288.2 379.1 289.6 380.4 289.8 382.0 289.4 384.3 287.6 384.9 287.4 385.6 287.6 386.9 288.9 387.5 289.3 388.2 289.3 390.1 288.6 392.4 289.0 394.3 288.6 395.0 288.7 396.6 289.8 397.2 289.9 397.9 289.6 398.8 288.8 399.5 288.7 402.1 290.5 403.0 290.8 404.0 290.7 405.9 289.9 406.9 289.7 407.9 290.0 409.8 290.7 410.8 289.6 411.4 289.1 412.1 289.4 413.4 290.6 415.0 291.3 417.9 291.3 418.9 291.1 419.5 291.3 421.5 291.3 422.4 290.4 423.4 290.0" stroke="#e0c090"/>
<path d="M66.9 293.2L67.5 293.1 67.9 288.0 72.4 134.5 84.0 134.5 85.3 191.2 86.0 209.1 86.6 217.8 86.9 218.8 87.3 219.1 88.9 217.6 89.2 216.5 89.8 212.4 90.2 211.9 100.8 271.7 101.8 276.6 102.8 280.0 103.7 281.6 105.3 283.1 108.6 285.2 112.1 287.1 117.9 289.4 124.4 291.2 131.8 292.5 140.9 293.4 141.2 293.3 143.2 291.7 144.1 291.2 146.7 290.5 147.7 290.4 149.0 290.8 151.9 293.1 152.8 293.5 153.8 293.7 155.1 293.7 156.1 293.5 157.0 293.0 158.7 291.8 159.6 291.5 160.3 291.6 162.2 292.7 162.9 292.9 163.8 292.9 165.8 292.1 166.7 292.0 167.7 292.3 170.6 293.6 171.9 293.8 173.5 293.8 174.5 293.6 175.5 293.1 176.4 292.2 178.7 289.7 179.3 289.3 180.0 289.2 181.0 289.6 183.5 292.0 184.8 292.9 186.4 293.4 188.4 293.7 191.0 293.4 191.9 293.0 194.5 291.5 196.1 291.3 198.4 291.6 201.3 293.1 202.6 293.5 203.6 293.5 204.9 293.2 207.8 291.9 208.7 291.8 211.6 292.7 212.6 292.8 214.6 292.8 215.8 293.0 218.1 293.8 219.4 294.0 220.7 293.6 223.3 291.6 224.2 291.2 224.9 291.3 227.2 292.1 228.1 292.0 230.1 291.3 231.0 291.2 232.0 291.5 234.9 293.2 235.9 293.6 236.9 293.7 238.1 293.5 240.7 292.6 243.0 292.5 245.3 292.1 246.2 292.2 249.1 293.4 250.7 293.5 252.4 293.2 255.3 292.1 259.5 291.8 260.8 292.0 263.7 293.3 265.9 293.4 268.5 293.1 271.4 291.7 272.4 291.5 275.6 292.6 276.6 292.5 278.2 292.2 279.2 292.2 282.1 293.2 283.4 293.5 287.6 293.3 291.8 293.5 293.4 293.1 294.4 292.3 295.0 291.3 295.7 289.9 296.3 287.8 297.3 283.0 298.2 275.8 299.9 257.0 303.1 206.9 304.1 196.8 304.7 193.4 305.0 192.9 305.3 193.6 306.0 203.5 307.3 238.5 310.2 272.0 311.2 273.8 313.4 277.5 316.0 282.5 317.0 283.9 318.3 285.3 323.4 289.0 325.1 289.9 326.3 290.3 328.3 290.6 330.2 290.6 333.8 289.7 335.4 289.7 337.0 290.2 339.0 291.5 339.9 291.9 340.9 291.9 343.2 291.0 344.1 290.9 345.1 291.2 347.4 292.6 348.6 293.1 349.9 292.9 352.5 291.7 353.8 291.5 354.8 291.8 357.0 293.0 358.0 293.3 359.3 293.3 361.9 292.5 363.2 292.4 364.5 292.7 367.7 294.0 368.7 294.1 370.3 293.5 372.6 291.4 373.5 291.1 374.5 291.4 377.4 293.1 378.7 293.5 379.7 293.1 381.9 290.5 382.6 290.1 383.2 290.0 384.8 290.4 386.8 291.6 387.4 291.6 388.4 291.1 389.0 291.0 390.3 291.5 391.6 291.6 395.2 292.7 395.8 292.6 397.1 291.8 397.8 291.7 398.4 292.1 399.0 292.9 400.0 293.4 402.0 293.7 403.6 293.2 404.5 292.2 405.2 291.8 405.8 292.0 406.8 292.8 407.4 293.1 409.1 293.0 410.7 293.7 412.3 293.4 413.9 294.3 418.8 294.3 419.1 294.1 420.0 293.1 420.4 293.1 421.0 293.3" stroke="#a0f0f0"/>
<path d="M64.5 296.3L65.2 296.3 65.5 290.9 70.0 137.5 81.6 137.5 82.9 196.2 83.6 215.1 84.2 224.4 84.6 225.5 84.9 224.9 85.8 220.1 86.2 219.8 86.8 220.6 87.1 219.7 87.5 217.9 87.8 218.0 97.5 274.2 98.5 279.1 99.4 282.3 100.1 283.5 100.7 284.2 103.0 286.0 106.5 288.3 110.4 290.3 115.9 292.4 122.4 294.1 129.5 295.3 137.9 296.2 140.8 294.4 143.4 294.3 145.3 293.5 146.3 293.3 147.6 293.7 150.1 295.4 151.8 295.9 152.7 295.9 153.4 295.7 155.3 294.6 156.3 294.3 157.3 294.5 159.2 295.7 160.2 296.0 161.5 295.9 163.7 295.0 164.7 294.9 165.7 295.1 168.6 296.2 170.5 296.5 171.8 296.5 172.8 296.2 173.4 295.8 176.6 293.0 177.3 292.6 177.9 292.5 178.6 292.6 179.2 293.0 181.5 295.2 182.5 296.0 183.4 296.4 184.7 296.6 187.3 296.3 188.3 295.9 190.5 294.6 191.5 294.4 193.8 294.8 195.7 294.6 196.7 294.6 199.6 296.0 201.2 296.3 202.2 296.2 204.8 295.4 205.7 295.5 208.0 296.2 209.3 296.3 213.2 294.9 214.1 295.0 216.1 295.6 217.4 295.7 218.3 295.5 220.3 294.5 220.9 294.4 221.9 294.6 223.5 295.5 224.5 295.7 225.4 295.7 228.0 294.8 229.0 294.7 230.0 295.0 232.5 296.3 233.8 296.5 234.8 296.4 237.4 295.7 240.3 295.8 242.6 295.0 243.5 294.9 244.5 295.1 247.1 296.6 248.4 296.8 249.7 296.6 252.2 295.7 255.2 295.9 258.1 295.3 259.4 295.5 261.9 296.6 263.6 296.7 265.5 296.5 267.8 295.6 268.7 295.4 269.7 295.6 272.0 296.5 272.9 296.7 273.9 296.6 276.8 295.7 280.7 296.4 285.8 296.4 290.4 296.0 291.7 295.6 292.3 295.2 293.0 294.4 293.9 292.3 294.9 288.3 295.9 281.7 297.5 263.9 300.7 215.0 301.7 205.7 302.3 203.0 302.6 202.9 303.0 205.0 303.3 209.6 304.9 249.6 306.9 271.9 308.1 274.5 310.4 278.2 312.7 283.0 314.0 285.2 315.6 287.0 321.1 291.8 322.4 292.7 324.0 293.4 326.2 294.0 327.9 294.1 329.1 293.7 332.1 291.3 333.0 291.1 334.0 291.7 336.3 294.2 337.2 294.8 338.5 294.7 340.8 293.7 341.7 293.6 342.7 293.9 345.3 295.4 346.6 295.7 347.6 295.5 349.8 294.3 350.8 294.0 351.8 294.3 354.3 296.0 356.0 296.4 357.3 296.2 361.1 295.2 362.4 295.3 364.7 295.7 366.0 295.7 367.3 295.3 369.2 294.2 370.2 294.0 371.1 294.3 373.1 295.5 375.0 296.0 377.3 296.8 378.6 296.2 381.5 293.3 382.1 292.9 382.8 292.7 386.3 293.4 388.3 293.4 389.9 293.6 392.5 294.6 395.7 294.2 396.3 294.5 398.3 296.2 398.9 296.6 399.6 296.7 400.5 296.6 402.2 296.1 403.8 294.4 405.4 293.7 406.0 293.8 406.4 294.1 408.0 295.9 409.9 296.2 411.5 297.2 415.7 297.2 416.1 297.1 417.7 294.8 418.0 294.7 418.6 294.7" stroke="#a0c8ff"/>
<path d="M62.1 299.5L62.8 299.4 63.1 293.9 67.6 140.4 79.3 140.4 80.6 197.8 81.2 216.5 81.9 225.9 82.2 227.2 82.5 226.0 82.8 225.4 83.2 225.5 83.8 226.5 84.1 226.0 85.4 216.7 85.7 216.1 95.4 275.5 97.0 283.9 98.0 286.3 99.3 287.7 103.2 290.4 107.4 292.7 112.9 294.9 119.3 296.7 124.5 297.7 125.8 297.8 126.8 298.1 135.2 299.0 136.8 298.0 137.8 297.7 138.4 297.7 140.3 298.4 141.0 298.3 142.0 297.8 143.9 296.3 144.9 296.0 145.8 296.5 148.4 298.7 149.4 299.1 150.4 299.0 152.3 297.9 153.3 297.7 154.2 298.0 156.2 299.0 157.5 299.4 159.4 299.4 161.7 298.6 162.6 298.4 163.6 298.5 165.9 299.5 167.2 299.7 168.8 299.3 171.4 297.8 175.2 296.0 175.9 295.9 176.5 295.9 177.2 296.3 180.1 298.8 181.1 299.2 182.0 299.3 184.3 298.9 186.9 297.4 187.8 297.2 188.8 297.4 190.4 298.2 191.4 298.3 194.3 297.5 195.3 297.5 197.2 298.2 198.2 298.4 199.1 298.2 200.8 297.6 201.7 297.5 204.3 298.7 205.6 299.0 207.2 298.8 209.8 297.9 210.8 297.9 211.7 298.1 213.4 298.9 214.3 299.1 215.3 299.0 217.2 297.9 218.2 297.7 218.9 297.9 220.8 299.1 221.8 299.3 223.1 299.1 225.6 297.7 226.9 297.4 227.9 297.5 230.5 298.5 231.5 298.6 234.0 298.1 237.3 298.8 238.6 298.7 240.8 297.7 241.8 297.6 242.8 297.9 244.7 298.9 245.7 299.1 246.6 299.0 249.2 298.3 252.8 298.7 256.3 298.1 257.3 298.2 259.9 299.0 261.2 299.0 265.1 298.1 266.0 298.3 268.6 299.2 270.2 299.3 271.5 299.0 274.1 297.8 275.1 297.6 279.0 298.8 281.9 299.1 286.7 299.4 288.0 299.2 289.0 298.9 289.6 298.5 290.3 297.7 290.9 296.6 291.6 294.7 292.5 290.3 293.5 283.0 295.1 263.2 298.0 217.1 299.0 208.4 299.3 207.1 299.6 206.7 300.0 208.0 300.6 218.0 301.9 253.0 303.5 272.8 303.8 274.3 304.8 276.7 307.4 281.2 310.3 287.1 312.6 290.5 314.8 292.7 316.8 294.0 321.9 296.5 323.9 297.3 325.2 297.5 326.1 297.5 327.1 297.1 329.4 294.8 330.3 294.4 331.3 294.9 333.6 297.4 334.2 297.8 335.2 298.1 336.5 298.0 339.0 297.0 340.0 296.8 341.0 297.1 343.6 298.6 344.9 298.8 345.8 298.4 347.8 297.1 348.7 296.9 349.7 297.2 352.0 298.4 353.6 298.9 355.2 299.0 358.8 298.5 362.6 299.1 363.9 298.8 366.2 297.3 367.2 297.0 368.1 297.3 369.7 298.4 370.7 298.9 373.6 299.2 375.6 299.9 376.8 299.4 377.8 298.7 379.4 297.4 380.4 296.0 380.7 295.8 381.4 295.6 383.3 296.1 385.2 297.4 387.5 298.7 388.5 299.0 390.4 298.8 392.0 299.2 395.6 298.1 396.2 298.2 397.9 299.2 399.1 299.6 401.4 298.8 402.1 298.8 403.0 299.0 403.7 298.7 404.3 298.9 405.6 299.8 406.6 300.0 410.8 300.1 412.1 299.7 413.0 300.1 415.6 300.1 416.3 299.7" stroke="#7070ff"/>
<path d="M59.8 303.0L60.4 303.0 60.7 296.8 65.3 143.3 76.9 143.3 78.2 202.0 78.8 221.3 79.5 231.3 79.8 232.8 80.1 232.0 81.1 223.6 81.4 222.2 82.4 220.4 82.7 220.1 83.0 220.8 92.1 279.2 93.1 284.7 93.7 287.1 94.7 288.9 96.9 290.9 100.8 293.5 105.3 295.9 110.8 298.0 117.0 299.7 123.7 300.9 131.8 301.9 134.1 300.2 135.1 299.8 136.0 300.1 138.0 301.2 138.6 301.3 139.3 301.2 140.2 300.7 141.8 299.5 142.8 299.1 143.8 299.3 145.7 300.7 146.7 301.2 147.7 301.1 149.3 300.4 150.2 300.3 153.2 301.8 155.1 302.2 156.7 302.2 157.7 302.1 159.9 301.0 160.9 300.7 161.9 300.8 164.1 301.6 165.1 301.6 168.0 300.7 170.3 300.6 170.9 300.5 173.2 299.1 174.2 298.7 174.8 298.8 175.4 299.2 177.7 301.0 179.0 301.7 180.0 301.8 180.9 301.7 183.2 300.5 184.2 300.3 185.1 300.6 187.1 302.2 188.4 302.8 189.7 302.6 192.6 301.4 195.5 301.5 198.4 300.4 199.4 300.6 201.9 301.5 204.5 301.7 205.8 301.5 207.8 300.8 208.7 300.7 211.3 301.4 212.0 301.5 212.6 301.3 214.5 300.2 215.2 300.0 216.2 300.3 218.4 301.9 219.7 302.2 221.0 301.9 223.6 300.4 224.9 300.2 227.8 301.1 231.0 301.1 233.6 302.0 234.9 302.1 236.2 302.0 238.4 301.2 239.4 301.0 240.4 301.1 242.3 301.9 243.3 302.1 246.5 301.4 250.4 302.1 251.7 302.0 254.9 301.4 258.2 301.9 259.1 301.8 260.7 301.2 261.7 301.1 264.6 301.9 266.2 302.1 268.5 302.0 271.4 301.3 272.4 301.2 273.3 301.5 275.6 302.4 276.9 302.6 280.8 302.3 285.0 302.3 286.3 302.1 287.2 301.8 288.2 301.1 288.9 300.3 289.8 298.0 290.8 293.8 291.4 289.3 292.1 283.2 293.1 270.9 296.0 223.6 296.9 214.3 297.3 213.0 297.6 212.6 297.9 214.0 298.5 223.8 299.8 258.1 301.1 274.1 302.1 276.4 304.4 280.9 306.6 286.7 307.9 289.4 309.9 292.3 311.1 293.6 312.8 294.9 317.3 298.0 319.9 299.2 322.1 300.0 323.1 300.1 324.1 299.9 325.0 299.2 326.7 297.5 327.6 297.1 328.6 297.6 331.2 300.5 332.5 301.2 333.1 301.3 334.1 301.2 337.3 299.6 338.3 299.4 339.3 299.7 342.2 301.5 343.1 301.5 345.4 300.7 346.4 300.5 347.3 300.8 349.9 302.2 351.2 302.5 353.1 302.3 356.4 301.1 357.7 301.1 360.6 301.6 363.8 300.6 364.8 300.8 368.3 301.8 370.0 302.1 371.6 302.6 373.2 302.6 374.8 302.0 376.1 301.2 377.1 300.1 378.7 297.6 379.3 296.9 380.0 296.7 380.9 297.1 382.6 299.0 385.5 301.5 386.1 301.8 387.4 302.0 388.7 302.8 390.0 302.4 391.3 301.0 391.9 300.8 392.6 301.0 394.2 302.0 395.2 302.0 398.4 300.8 400.3 299.1 400.6 299.1 401.3 299.7 402.6 301.8 403.2 302.5 404.5 302.9 406.5 303.0 408.4 302.3 409.0 302.5 410.0 303.1 411.0 303.1 413.9 301.0" stroke="#ff7070"/>
<path d="M57.4 305.8L58.0 305.8 58.4 299.7 62.9 146.3 74.5 146.3 75.8 205.4 76.5 225.2 77.1 235.6 77.4 237.2 77.8 237.0 78.1 236.0 80.0 222.4 80.3 221.1 80.7 222.5 89.4 281.7 90.7 289.0 91.0 290.2 91.6 291.5 92.9 292.9 97.5 296.1 102.3 298.6 106.8 300.4 111.7 301.9 117.2 303.1 123.3 304.1 128.2 304.7 129.1 304.3 131.4 302.6 132.4 302.6 133.0 302.9 135.3 304.7 136.6 305.1 137.9 304.8 140.4 302.7 141.1 302.4 141.7 302.3 144.3 303.1 146.6 303.2 149.5 304.6 151.4 304.8 155.6 304.8 158.9 303.9 159.8 304.0 162.1 304.7 162.7 304.7 165.0 304.1 167.6 304.5 168.2 304.5 169.2 304.2 171.5 302.6 172.4 302.4 173.4 302.6 175.7 304.1 176.9 304.6 177.9 304.6 179.9 303.7 180.8 303.5 181.8 303.9 183.7 305.1 185.0 305.4 186.6 305.2 190.2 303.8 194.4 303.2 195.7 303.5 198.3 305.0 200.2 305.3 202.8 305.1 206.3 303.7 207.3 303.8 208.9 304.3 209.6 304.3 211.8 303.3 212.5 303.2 213.5 303.4 215.7 304.7 217.3 305.0 219.0 304.8 221.5 303.7 222.8 303.4 227.4 303.8 230.3 304.9 232.2 305.1 233.8 304.8 236.4 303.5 237.7 303.3 240.3 304.1 241.2 304.2 242.9 303.9 243.8 303.9 246.7 304.8 248.7 305.1 250.0 305.0 252.9 304.3 255.5 304.4 257.7 304.3 258.7 304.6 260.6 305.4 261.9 305.7 266.8 305.4 267.7 305.1 270.0 304.1 271.3 303.9 279.4 305.2 284.5 305.3 286.2 305.0 286.8 304.7 287.4 303.9 288.4 301.6 289.4 297.0 290.0 292.0 291.3 276.8 294.2 230.1 294.9 223.9 295.2 222.2 295.5 221.4 295.8 222.2 296.5 230.0 298.1 268.8 298.4 273.2 301.3 280.8 303.9 288.3 305.2 291.3 306.5 293.6 307.8 295.3 309.4 297.1 311.4 298.8 313.9 300.3 317.8 302.0 319.4 302.5 320.4 302.6 321.4 302.4 324.3 301.1 325.6 301.2 326.5 301.6 329.5 303.8 331.1 304.2 332.4 304.0 334.9 302.8 335.9 302.6 336.9 302.8 338.8 303.9 339.8 304.2 342.7 304.0 345.0 304.1 350.1 304.8 354.3 304.3 357.2 304.5 358.2 304.2 360.1 303.2 360.8 303.1 361.4 303.2 363.4 304.0 365.3 304.1 367.6 304.8 370.5 305.4 371.5 305.4 372.7 305.0 373.7 304.3 374.7 303.2 376.9 299.9 377.6 299.3 377.9 299.2 378.6 299.4 380.2 301.6 381.1 302.6 384.1 304.5 387.0 305.7 387.9 305.5 389.5 304.7 390.8 304.6 393.4 304.8 395.4 305.6 397.9 304.9 398.9 304.8 399.9 305.0 400.9 304.7 401.5 305.0 402.5 305.8 403.4 305.9 405.1 305.0 406.0 304.7 407.0 304.9 408.6 305.6 409.3 305.3 410.2 304.6 410.5 304.5 410.9 304.5 411.5 305.0" stroke="#7a7aff"/>
</g>
<path d="M56.2 147.9L169.3 4.4H525.8V164.3" stroke="#8a8a8a" fill="none" stroke-width="0.85"/>
<path d="M525.8 164.3L412 308" stroke="#555" fill="none" stroke-width="0.9"/>
<path d="M56.2 147.9V308.2H412" stroke="#444" fill="none" stroke-width="1"/>
<path d="M53.2 308.0H56.2" stroke="#444" stroke-width="1"/>
<path d="M53.2 276.6H56.2" stroke="#444" stroke-width="1"/>
<path d="M53.2 245.2H56.2" stroke="#444" stroke-width="1"/>
<path d="M53.2 213.9H56.2" stroke="#444" stroke-width="1"/>
<path d="M53.2 182.5H56.2" stroke="#444" stroke-width="1"/>
<path d="M53.2 151.1H56.2" stroke="#444" stroke-width="1"/>
<path d="M56.1 308.2V311.5" stroke="#444" stroke-width="1"/>
<path d="M69.0 308.2V310.0" stroke="#444" stroke-width="1"/>
<path d="M81.9 308.2V310.0" stroke="#444" stroke-width="1"/>
<path d="M94.9 308.2V310.0" stroke="#444" stroke-width="1"/>
<path d="M107.8 308.2V310.0" stroke="#444" stroke-width="1"/>
<path d="M120.7 308.2V311.5" stroke="#444" stroke-width="1"/>
<path d="M133.6 308.2V310.0" stroke="#444" stroke-width="1"/>
<path d="M146.6 308.2V310.0" stroke="#444" stroke-width="1"/>
<path d="M159.5 308.2V310.0" stroke="#444" stroke-width="1"/>
<path d="M172.4 308.2V310.0" stroke="#444" stroke-width="1"/>
<path d="M185.3 308.2V311.5" stroke="#444" stroke-width="1"/>
<path d="M198.3 308.2V310.0" stroke="#444" stroke-width="1"/>
<path d="M211.2 308.2V310.0" stroke="#444" stroke-width="1"/>
<path d="M224.1 308.2V310.0" stroke="#444" stroke-width="1"/>
<path d="M237.0 308.2V310.0" stroke="#444" stroke-width="1"/>
<path d="M250.0 308.2V311.5" stroke="#444" stroke-width="1"/>
<path d="M262.9 308.2V310.0" stroke="#444" stroke-width="1"/>
<path d="M275.8 308.2V310.0" stroke="#444" stroke-width="1"/>
<path d="M288.7 308.2V310.0" stroke="#444" stroke-width="1"/>
<path d="M301.7 308.2V310.0" stroke="#444" stroke-width="1"/>
<path d="M314.6 308.2V311.5" stroke="#444" stroke-width="1"/>
<path d="M327.5 308.2V310.0" stroke="#444" stroke-width="1"/>
<path d="M340.4 308.2V310.0" stroke="#444" stroke-width="1"/>
<path d="M353.4 308.2V310.0" stroke="#444" stroke-width="1"/>
<path d="M366.3 308.2V310.0" stroke="#444" stroke-width="1"/>
<path d="M379.2 308.2V311.5" stroke="#444" stroke-width="1"/>
<path d="M392.1 308.2V310.0" stroke="#444" stroke-width="1"/>
<path d="M405.0 308.2V310.0" stroke="#444" stroke-width="1"/>
<path d="M514.7 178.0H517.5" stroke="#444" stroke-width="1"/>
<path d="M503.2 192.6H506.0" stroke="#444" stroke-width="1"/>
<path d="M491.7 207.2H494.5" stroke="#444" stroke-width="1"/>
<path d="M480.1 221.8H482.9" stroke="#444" stroke-width="1"/>
<path d="M468.6 236.4H471.4" stroke="#444" stroke-width="1"/>
<path d="M457.0 251.0H459.8" stroke="#444" stroke-width="1"/>
<path d="M445.5 265.6H448.3" stroke="#444" stroke-width="1"/>
<path d="M434.0 280.2H436.8" stroke="#444" stroke-width="1"/>
<path d="M422.4 294.8H425.2" stroke="#444" stroke-width="1"/>
<text x="51.0" y="313.8" text-anchor="end" font-size="16">0</text>
<text x="51.0" y="282.4" text-anchor="end" font-size="16">50</text>
<text x="51.0" y="251.0" text-anchor="end" font-size="16">100</text>
<text x="51.0" y="219.7" text-anchor="end" font-size="16">150</text>
<text x="51.0" y="188.3" text-anchor="end" font-size="16">200</text>
<text x="51.0" y="156.9" text-anchor="end" font-size="16">250</text>
<text x="57.4" y="329.3" text-anchor="middle" font-size="16">0</text>
<text x="122.0" y="329.3" text-anchor="middle" font-size="16">1</text>
<text x="186.6" y="329.3" text-anchor="middle" font-size="16">2</text>
<text x="251.3" y="329.3" text-anchor="middle" font-size="16">3</text>
<text x="315.9" y="329.3" text-anchor="middle" font-size="16">4</text>
<text x="380.5" y="329.3" text-anchor="middle" font-size="16">5</text>
<text x="524.6" y="187.6" font-size="16">5</text>
<text x="512.5" y="202.3" font-size="16">10</text>
<text x="501.2" y="217.8" font-size="16">15</text>
<text x="487.5" y="233.6" font-size="16">20</text>
<text x="474.6" y="250.3" font-size="16">25</text>
<text x="463.3" y="264.4" font-size="16">30</text>
<text x="453.1" y="278.6" font-size="16">35</text>
<text x="441.0" y="293.4" font-size="16">40</text>
<text x="428.9" y="308.5" font-size="16">45</text>
<text x="241.5" y="345.5" text-anchor="middle" font-size="17">Time/(µs)</text>
<text x="489.5" y="271.7" font-size="17">Element</text>
<text transform="translate(16.2 225.2) rotate(-90)" text-anchor="middle" font-size="17.5">Amplitude</text>
<text x="209.2" y="35.8" font-size="20">Reflected waves</text>
<text x="209.2" y="59.6" font-size="20">at the interface</text>
<path d="M331.4 56L362.5 83.4" stroke="#444" stroke-width="0.8" fill="none"/><path d="M366 86.6L359.9 84.2L362.9 80.8Z" fill="#333"/>
</svg>
</body></html>
